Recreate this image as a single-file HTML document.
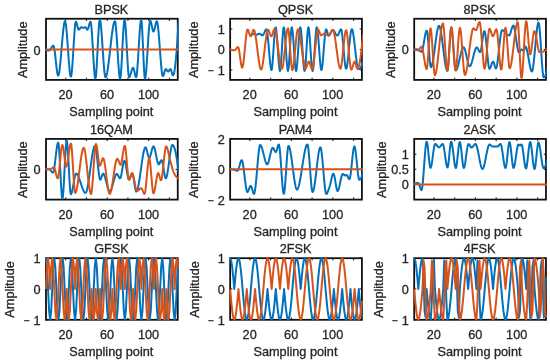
<!DOCTYPE html><html><head><meta charset="utf-8"><style>html,body{margin:0;padding:0;background:#fff;}svg{display:block;}text{font-family:"Liberation Sans",Arial,Helvetica,sans-serif;fill:#262626;stroke:#262626;stroke-width:0.3px;}</style></head><body>
<svg width="550" height="360" viewBox="0 0 550 360">
<rect width="550" height="360" fill="#fff"/>
<defs>
<clipPath id="c0"><rect x="45.00" y="17.75" width="133.75" height="63.15"/></clipPath>
<clipPath id="c1"><rect x="229.15" y="17.75" width="133.75" height="63.15"/></clipPath>
<clipPath id="c2"><rect x="413.20" y="17.75" width="133.75" height="63.15"/></clipPath>
<clipPath id="c3"><rect x="45.00" y="137.90" width="133.75" height="62.70"/></clipPath>
<clipPath id="c4"><rect x="229.15" y="137.90" width="133.75" height="62.70"/></clipPath>
<clipPath id="c5"><rect x="413.20" y="137.90" width="133.75" height="62.70"/></clipPath>
<clipPath id="c6"><rect x="45.00" y="257.20" width="133.75" height="63.60"/></clipPath>
<clipPath id="c7"><rect x="229.15" y="257.20" width="133.75" height="63.60"/></clipPath>
<clipPath id="c8"><rect x="413.20" y="257.20" width="133.75" height="63.60"/></clipPath>
</defs>
<rect x="46.00" y="18.75" width="131.75" height="61.15" fill="none" stroke="#101010" stroke-width="1.8"/>
<path d="M65.71 79.90v-2.2M65.71 18.75v2.2" stroke="#101010" stroke-width="1"/>
<path d="M86.46 79.90v-2.2M86.46 18.75v2.2" stroke="#101010" stroke-width="1"/>
<path d="M107.21 79.90v-2.2M107.21 18.75v2.2" stroke="#101010" stroke-width="1"/>
<path d="M127.95 79.90v-2.2M127.95 18.75v2.2" stroke="#101010" stroke-width="1"/>
<path d="M148.70 79.90v-2.2M148.70 18.75v2.2" stroke="#101010" stroke-width="1"/>
<path d="M169.45 79.90v-2.2M169.45 18.75v2.2" stroke="#101010" stroke-width="1"/>
<text x="65.51" y="99.10" font-size="12.7" text-anchor="middle">20</text>
<text x="107.01" y="99.10" font-size="12.7" text-anchor="middle">60</text>
<text x="148.50" y="99.10" font-size="12.7" text-anchor="middle">100</text>
<path d="M46.00 49.60h2.2M177.75 49.60h-2.2" stroke="#101010" stroke-width="1"/>
<text x="40.60" y="54.50" font-size="12.7" text-anchor="end">0</text>
<text x="111.42" y="13.80" font-size="12.7" text-anchor="middle">BPSK</text>
<text x="111.33" y="116.40" font-size="12.7" text-anchor="middle">Sampling point</text>
<text transform="translate(26.70,49.78) rotate(-90)" x="0" y="0" font-size="12.7" text-anchor="middle">Amplitude</text>
<g clip-path="url(#c0)" fill="none" stroke-width="2.0" stroke-linejoin="round" stroke-linecap="butt">
<polyline stroke="#0072BD" points="45.50,49.60 45.85,49.87 46.20,50.09 46.55,50.26 46.90,50.38 47.25,50.48 47.60,50.54 47.95,50.57 48.30,50.59 48.65,50.60 49.00,50.60 49.35,50.51 49.70,50.27 50.05,49.90 50.40,49.43 50.75,48.89 51.10,48.32 51.45,47.73 51.80,47.17 52.15,46.66 52.50,46.23 52.85,45.91 53.20,45.73 53.55,45.79 53.90,46.61 54.25,48.19 54.60,50.39 54.95,53.06 55.30,56.08 55.65,59.30 56.00,62.57 56.35,65.77 56.70,68.74 57.05,71.36 57.40,73.48 57.75,74.96 58.10,75.66 58.45,75.48 58.80,74.50 59.15,72.81 59.50,70.49 59.85,67.63 60.20,64.33 60.55,60.67 60.90,56.75 61.25,52.64 61.60,48.45 61.95,44.26 62.30,40.15 62.65,36.23 63.00,32.57 63.35,29.27 63.70,26.41 64.05,24.09 64.40,22.40 64.75,21.42 65.10,21.25 65.45,22.12 65.80,23.98 66.15,26.70 66.50,30.14 66.85,34.15 67.20,38.60 67.55,43.34 67.90,48.24 68.25,53.17 68.60,57.97 68.95,62.52 69.30,66.67 69.65,70.28 70.00,73.22 70.35,75.34 70.70,76.51 71.05,76.55 71.40,75.16 71.75,72.47 72.10,68.72 72.45,64.12 72.80,58.91 73.15,53.31 73.50,47.55 73.85,41.86 74.20,36.45 74.55,31.56 74.90,27.42 75.25,24.25 75.60,22.27 75.95,21.71 76.30,22.14 76.65,23.11 77.00,24.43 77.35,25.91 77.70,27.37 78.05,28.61 78.40,29.44 78.75,29.70 79.10,29.55 79.45,29.22 79.80,28.77 80.15,28.29 80.50,27.84 80.85,27.49 81.20,27.31 81.55,27.32 81.90,27.38 82.25,27.47 82.60,27.58 82.95,27.68 83.30,27.76 83.65,27.80 84.00,27.76 84.35,27.65 84.70,27.51 85.05,27.38 85.40,27.30 85.75,27.41 86.10,27.87 86.45,28.50 86.80,29.13 87.15,29.59 87.50,29.68 87.85,29.24 88.20,28.38 88.55,27.21 88.90,25.89 89.25,24.55 89.60,23.33 89.95,22.37 90.30,21.80 90.65,21.86 91.00,23.36 91.35,26.24 91.70,30.27 92.05,35.18 92.40,40.73 92.75,46.67 93.10,52.76 93.45,58.74 93.80,64.36 94.15,69.38 94.50,73.55 94.85,76.61 95.20,78.32 95.55,78.40 95.90,76.49 96.25,72.86 96.60,67.86 96.95,61.85 97.30,55.18 97.65,48.20 98.00,41.27 98.35,34.75 98.70,28.99 99.05,24.34 99.40,21.17 99.75,19.82 100.10,20.26 100.45,21.87 100.80,24.48 101.15,27.93 101.50,32.07 101.85,36.73 102.20,41.76 102.55,46.99 102.90,52.27 103.25,57.43 103.60,62.32 103.95,66.77 104.30,70.64 104.65,73.75 105.00,75.95 105.35,77.08 105.70,77.13 106.05,76.65 106.40,75.76 106.75,74.49 107.10,72.88 107.45,70.97 107.80,68.78 108.15,66.36 108.50,63.73 108.85,60.93 109.20,58.00 109.55,54.97 109.90,51.88 110.25,48.75 110.60,45.63 110.95,42.55 111.30,39.55 111.65,36.65 112.00,33.90 112.35,31.33 112.70,28.97 113.05,26.85 113.40,25.02 113.75,23.51 114.10,22.35 114.45,21.57 114.80,21.22 115.15,21.59 115.50,23.32 115.85,26.25 116.20,30.17 116.55,34.87 116.90,40.14 117.25,45.77 117.60,51.55 117.95,57.28 118.30,62.73 118.65,67.70 119.00,71.98 119.35,75.36 119.70,77.63 120.05,78.58 120.40,77.85 120.75,75.27 121.10,71.18 121.45,65.90 121.80,59.77 122.15,53.11 122.50,46.26 122.85,39.56 123.20,33.33 123.55,27.91 123.90,23.63 124.25,20.81 124.60,19.80 124.95,20.79 125.30,23.53 125.65,27.72 126.00,33.01 126.35,39.09 126.70,45.63 127.05,52.32 127.40,58.81 127.75,64.80 128.10,69.96 128.45,73.95 128.80,76.47 129.15,77.20 129.50,76.93 129.85,76.32 130.20,75.44 130.55,74.36 130.90,73.16 131.25,71.92 131.60,70.71 131.95,69.60 132.30,68.69 132.65,68.03 133.00,67.72 133.35,67.89 133.70,68.69 134.05,69.95 134.40,71.51 134.75,73.16 135.10,74.74 135.45,76.06 135.80,76.93 136.15,77.18 136.50,76.20 136.85,73.84 137.20,70.34 137.55,65.92 137.90,60.80 138.25,55.20 138.60,49.34 138.95,43.46 139.30,37.76 139.65,32.48 140.00,27.84 140.35,24.05 140.70,21.35 141.05,19.95 141.40,20.27 141.75,23.14 142.10,28.13 142.45,34.70 142.80,42.29 143.15,50.36 143.50,58.35 143.85,65.70 144.20,71.88 144.55,76.32 144.90,78.48 145.25,78.21 145.60,76.47 145.95,73.51 146.30,69.55 146.65,64.81 147.00,59.49 147.35,53.81 147.70,47.98 148.05,42.21 148.40,36.71 148.75,31.70 149.10,27.38 149.45,23.97 149.80,21.68 150.15,20.72 150.50,20.95 150.85,21.80 151.20,23.10 151.55,24.68 151.90,26.40 152.25,28.09 152.60,29.61 152.95,30.79 153.30,31.48 153.65,31.54 154.00,30.96 154.35,29.89 154.70,28.47 155.05,26.87 155.40,25.23 155.75,23.69 156.10,22.41 156.45,21.53 156.80,21.20 157.15,21.72 157.50,23.21 157.85,25.53 158.20,28.56 158.55,32.18 158.90,36.27 159.25,40.69 159.60,45.33 159.95,50.05 160.30,54.74 160.65,59.27 161.00,63.52 161.35,67.35 161.70,70.65 162.05,73.29 162.40,75.15 162.75,76.10 163.10,76.10 163.45,75.53 163.80,74.57 164.15,73.38 164.50,72.10 164.85,70.89 165.20,69.89 165.55,69.25 165.90,69.11 166.25,69.34 166.60,69.77 166.95,70.30 167.30,70.83 167.65,71.26 168.00,71.49 168.35,71.43 168.70,71.12 169.05,70.67 169.40,70.15 169.75,69.66 170.10,69.28 170.45,69.10 170.80,69.37 171.15,70.22 171.50,71.43 171.85,72.78 172.20,74.03 172.55,74.94 172.90,75.30 173.25,75.07 173.60,74.39 173.95,73.26 174.30,71.69 174.65,69.70 175.00,67.29 175.35,64.47 175.70,61.24 176.05,57.62 176.40,53.62 176.75,49.24 177.10,44.49 177.45,39.39 177.80,33.93 178.15,28.13 178.50,22.00"/>
<polyline stroke="#D95319" points="45.50,49.60 45.85,49.60 46.20,49.60 46.55,49.60 46.90,49.60 47.25,49.60 47.60,49.60 47.95,49.60 48.30,49.60 48.65,49.60 49.00,49.60 49.35,49.60 49.70,49.60 50.05,49.60 50.40,49.60 50.75,49.60 51.10,49.60 51.45,49.60 51.80,49.60 52.15,49.60 52.50,49.60 52.85,49.60 53.20,49.60 53.55,49.60 53.90,49.60 54.25,49.60 54.60,49.60 54.95,49.60 55.30,49.60 55.65,49.60 56.00,49.60 56.35,49.60 56.70,49.60 57.05,49.60 57.40,49.60 57.75,49.60 58.10,49.60 58.45,49.60 58.80,49.60 59.15,49.60 59.50,49.60 59.85,49.60 60.20,49.60 60.55,49.60 60.90,49.60 61.25,49.60 61.60,49.60 61.95,49.60 62.30,49.60 62.65,49.60 63.00,49.60 63.35,49.60 63.70,49.60 64.05,49.60 64.40,49.60 64.75,49.60 65.10,49.60 65.45,49.60 65.80,49.60 66.15,49.60 66.50,49.60 66.85,49.60 67.20,49.60 67.55,49.60 67.90,49.60 68.25,49.60 68.60,49.60 68.95,49.60 69.30,49.60 69.65,49.60 70.00,49.60 70.35,49.60 70.70,49.60 71.05,49.60 71.40,49.60 71.75,49.60 72.10,49.60 72.45,49.60 72.80,49.60 73.15,49.60 73.50,49.60 73.85,49.60 74.20,49.60 74.55,49.60 74.90,49.60 75.25,49.60 75.60,49.60 75.95,49.60 76.30,49.60 76.65,49.60 77.00,49.60 77.35,49.60 77.70,49.60 78.05,49.60 78.40,49.60 78.75,49.60 79.10,49.60 79.45,49.60 79.80,49.60 80.15,49.60 80.50,49.60 80.85,49.60 81.20,49.60 81.55,49.60 81.90,49.60 82.25,49.60 82.60,49.60 82.95,49.60 83.30,49.60 83.65,49.60 84.00,49.60 84.35,49.60 84.70,49.60 85.05,49.60 85.40,49.60 85.75,49.60 86.10,49.60 86.45,49.60 86.80,49.60 87.15,49.60 87.50,49.60 87.85,49.60 88.20,49.60 88.55,49.60 88.90,49.60 89.25,49.60 89.60,49.60 89.95,49.60 90.30,49.60 90.65,49.60 91.00,49.60 91.35,49.60 91.70,49.60 92.05,49.60 92.40,49.60 92.75,49.60 93.10,49.60 93.45,49.60 93.80,49.60 94.15,49.60 94.50,49.60 94.85,49.60 95.20,49.60 95.55,49.60 95.90,49.60 96.25,49.60 96.60,49.60 96.95,49.60 97.30,49.60 97.65,49.60 98.00,49.60 98.35,49.60 98.70,49.60 99.05,49.60 99.40,49.60 99.75,49.60 100.10,49.60 100.45,49.60 100.80,49.60 101.15,49.60 101.50,49.60 101.85,49.60 102.20,49.60 102.55,49.60 102.90,49.60 103.25,49.60 103.60,49.60 103.95,49.60 104.30,49.60 104.65,49.60 105.00,49.60 105.35,49.60 105.70,49.60 106.05,49.60 106.40,49.60 106.75,49.60 107.10,49.60 107.45,49.60 107.80,49.60 108.15,49.60 108.50,49.60 108.85,49.60 109.20,49.60 109.55,49.60 109.90,49.60 110.25,49.60 110.60,49.60 110.95,49.60 111.30,49.60 111.65,49.60 112.00,49.60 112.35,49.60 112.70,49.60 113.05,49.60 113.40,49.60 113.75,49.60 114.10,49.60 114.45,49.60 114.80,49.60 115.15,49.60 115.50,49.60 115.85,49.60 116.20,49.60 116.55,49.60 116.90,49.60 117.25,49.60 117.60,49.60 117.95,49.60 118.30,49.60 118.65,49.60 119.00,49.60 119.35,49.60 119.70,49.60 120.05,49.60 120.40,49.60 120.75,49.60 121.10,49.60 121.45,49.60 121.80,49.60 122.15,49.60 122.50,49.60 122.85,49.60 123.20,49.60 123.55,49.60 123.90,49.60 124.25,49.60 124.60,49.60 124.95,49.60 125.30,49.60 125.65,49.60 126.00,49.60 126.35,49.60 126.70,49.60 127.05,49.60 127.40,49.60 127.75,49.60 128.10,49.60 128.45,49.60 128.80,49.60 129.15,49.60 129.50,49.60 129.85,49.60 130.20,49.60 130.55,49.60 130.90,49.60 131.25,49.60 131.60,49.60 131.95,49.60 132.30,49.60 132.65,49.60 133.00,49.60 133.35,49.60 133.70,49.60 134.05,49.60 134.40,49.60 134.75,49.60 135.10,49.60 135.45,49.60 135.80,49.60 136.15,49.60 136.50,49.60 136.85,49.60 137.20,49.60 137.55,49.60 137.90,49.60 138.25,49.60 138.60,49.60 138.95,49.60 139.30,49.60 139.65,49.60 140.00,49.60 140.35,49.60 140.70,49.60 141.05,49.60 141.40,49.60 141.75,49.60 142.10,49.60 142.45,49.60 142.80,49.60 143.15,49.60 143.50,49.60 143.85,49.60 144.20,49.60 144.55,49.60 144.90,49.60 145.25,49.60 145.60,49.60 145.95,49.60 146.30,49.60 146.65,49.60 147.00,49.60 147.35,49.60 147.70,49.60 148.05,49.60 148.40,49.60 148.75,49.60 149.10,49.60 149.45,49.60 149.80,49.60 150.15,49.60 150.50,49.60 150.85,49.60 151.20,49.60 151.55,49.60 151.90,49.60 152.25,49.60 152.60,49.60 152.95,49.60 153.30,49.60 153.65,49.60 154.00,49.60 154.35,49.60 154.70,49.60 155.05,49.60 155.40,49.60 155.75,49.60 156.10,49.60 156.45,49.60 156.80,49.60 157.15,49.60 157.50,49.60 157.85,49.60 158.20,49.60 158.55,49.60 158.90,49.60 159.25,49.60 159.60,49.60 159.95,49.60 160.30,49.60 160.65,49.60 161.00,49.60 161.35,49.60 161.70,49.60 162.05,49.60 162.40,49.60 162.75,49.60 163.10,49.60 163.45,49.60 163.80,49.60 164.15,49.60 164.50,49.60 164.85,49.60 165.20,49.60 165.55,49.60 165.90,49.60 166.25,49.60 166.60,49.60 166.95,49.60 167.30,49.60 167.65,49.60 168.00,49.60 168.35,49.60 168.70,49.60 169.05,49.60 169.40,49.60 169.75,49.60 170.10,49.60 170.45,49.60 170.80,49.60 171.15,49.60 171.50,49.60 171.85,49.60 172.20,49.60 172.55,49.60 172.90,49.60 173.25,49.60 173.60,49.60 173.95,49.60 174.30,49.60 174.65,49.60 175.00,49.60 175.35,49.60 175.70,49.60 176.05,49.60 176.40,49.60 176.75,49.60 177.10,49.60 177.45,49.60 177.80,49.60 178.00,49.60"/>
</g>
<rect x="230.15" y="18.75" width="131.75" height="61.15" fill="none" stroke="#101010" stroke-width="1.8"/>
<path d="M249.86 79.90v-2.2M249.86 18.75v2.2" stroke="#101010" stroke-width="1"/>
<path d="M270.61 79.90v-2.2M270.61 18.75v2.2" stroke="#101010" stroke-width="1"/>
<path d="M291.36 79.90v-2.2M291.36 18.75v2.2" stroke="#101010" stroke-width="1"/>
<path d="M312.10 79.90v-2.2M312.10 18.75v2.2" stroke="#101010" stroke-width="1"/>
<path d="M332.85 79.90v-2.2M332.85 18.75v2.2" stroke="#101010" stroke-width="1"/>
<path d="M353.60 79.90v-2.2M353.60 18.75v2.2" stroke="#101010" stroke-width="1"/>
<text x="249.66" y="99.10" font-size="12.7" text-anchor="middle">20</text>
<text x="291.16" y="99.10" font-size="12.7" text-anchor="middle">60</text>
<text x="332.65" y="99.10" font-size="12.7" text-anchor="middle">100</text>
<path d="M230.15 29.00h2.2M361.90 29.00h-2.2" stroke="#101010" stroke-width="1"/>
<text x="224.75" y="33.90" font-size="12.7" text-anchor="end">1</text>
<path d="M230.15 49.50h2.2M361.90 49.50h-2.2" stroke="#101010" stroke-width="1"/>
<text x="224.75" y="54.40" font-size="12.7" text-anchor="end">0</text>
<path d="M230.15 70.00h2.2M361.90 70.00h-2.2" stroke="#101010" stroke-width="1"/>
<text x="224.75" y="74.90" font-size="12.7" text-anchor="end">1</text>
<text x="211.05" y="74.30" font-size="10" text-anchor="middle">&#8722;</text>
<text x="295.57" y="13.80" font-size="12.7" text-anchor="middle">QPSK</text>
<text x="295.47" y="116.40" font-size="12.7" text-anchor="middle">Sampling point</text>
<text transform="translate(198.35,49.78) rotate(-90)" x="0" y="0" font-size="12.7" text-anchor="middle">Amplitude</text>
<g clip-path="url(#c1)" fill="none" stroke-width="2.0" stroke-linejoin="round" stroke-linecap="butt">
<polyline stroke="#0072BD" points="250.60,36.20 250.95,35.72 251.30,35.28 251.65,34.88 252.00,34.53 252.35,34.24 252.70,34.02 253.05,33.87 253.40,33.80 253.75,33.82 254.10,33.91 254.45,34.05 254.80,34.22 255.15,34.40 255.50,34.57 255.85,34.71 256.20,34.79 256.55,34.79 256.90,34.71 257.25,34.56 257.60,34.37 257.95,34.16 258.30,33.97 258.65,33.81 259.00,33.72 259.35,33.71 259.70,33.79 260.05,33.95 260.40,34.16 260.75,34.39 261.10,34.64 261.45,34.87 261.80,35.08 262.15,35.22 262.50,35.30 262.85,35.22 263.20,34.89 263.55,34.35 263.90,33.65 264.25,32.85 264.60,32.01 264.95,31.19 265.30,30.44 265.65,29.82 266.00,29.39 266.35,29.20 266.70,29.61 267.05,31.02 267.40,33.30 267.75,36.28 268.10,39.80 268.45,43.71 268.80,47.85 269.15,52.05 269.50,56.16 269.85,60.03 270.20,63.48 270.55,66.37 270.90,68.53 271.25,69.81 271.60,70.02 271.95,68.67 272.30,65.85 272.65,61.89 273.00,57.11 273.35,51.82 273.70,46.36 274.05,41.03 274.40,36.15 274.75,32.06 275.10,29.05 275.45,27.47 275.80,27.56 276.15,29.18 276.50,32.04 276.85,35.88 277.20,40.43 277.55,45.44 277.90,50.64 278.25,55.76 278.60,60.54 278.95,64.72 279.30,68.03 279.65,70.21 280.00,71.00 280.35,69.96 280.70,67.10 281.05,62.83 281.40,57.58 281.75,51.73 282.10,45.71 282.45,39.93 282.80,34.79 283.15,30.70 283.50,28.07 283.85,27.32 284.20,28.41 284.55,30.98 284.90,34.72 285.25,39.33 285.60,44.50 285.95,49.93 286.30,55.32 286.65,60.36 287.00,64.75 287.35,68.18 287.70,70.36 288.05,70.98 288.40,69.65 288.75,66.57 289.10,62.13 289.45,56.77 289.80,50.87 290.15,44.86 290.50,39.14 290.85,34.13 291.20,30.22 291.55,27.84 291.90,27.37 292.25,28.64 292.60,31.27 292.95,35.01 293.30,39.54 293.65,44.61 294.00,49.91 294.35,55.18 294.70,60.12 295.05,64.46 295.40,67.90 295.75,70.18 296.10,71.00 296.45,70.14 296.80,67.76 297.15,64.17 297.50,59.67 297.85,54.56 298.20,49.15 298.55,43.74 298.90,38.63 299.25,34.13 299.60,30.54 299.95,28.16 300.30,27.30 300.65,28.12 301.00,30.40 301.35,33.84 301.70,38.18 302.05,43.12 302.40,48.39 302.75,53.69 303.10,58.76 303.45,63.29 303.80,67.03 304.15,69.66 304.50,70.93 304.85,70.46 305.20,68.08 305.55,64.17 305.90,59.16 306.25,53.44 306.60,47.43 306.95,41.53 307.30,36.17 307.65,31.73 308.00,28.65 308.35,27.32 308.70,27.94 309.05,30.12 309.40,33.55 309.75,37.94 310.10,42.98 310.45,48.37 310.80,53.80 311.15,58.97 311.50,63.58 311.85,67.32 312.20,69.89 312.55,70.98 312.90,70.36 313.25,68.18 313.60,64.75 313.95,60.36 314.30,55.32 314.65,49.93 315.00,44.50 315.35,39.33 315.70,34.72 316.05,30.98 316.40,28.41 316.75,27.32 317.10,27.82 317.45,29.62 317.80,32.49 318.15,36.20 318.50,40.52 318.85,45.22 319.20,50.09 319.55,54.90 319.90,59.41 320.25,63.41 320.60,66.67 320.95,68.95 321.30,70.04 321.65,69.77 322.00,68.28 322.35,65.77 322.70,62.46 323.05,58.55 323.40,54.22 323.75,49.70 324.10,45.18 324.45,40.85 324.80,36.94 325.15,33.63 325.50,31.12 325.85,29.63 326.20,29.33 326.55,29.84 326.90,30.82 327.25,32.07 327.60,33.38 327.95,34.54 328.30,35.35 328.65,35.60 329.00,35.46 329.35,35.13 329.70,34.65 330.05,34.06 330.40,33.40 330.75,32.70 331.10,32.01 331.45,31.36 331.80,30.80 332.15,30.36 332.50,30.08 332.85,30.00 333.20,30.12 333.55,30.40 333.90,30.81 334.25,31.32 334.60,31.90 334.95,32.53 335.30,33.16 335.65,33.79 336.00,34.36 336.35,34.86 336.70,35.25 337.05,35.51 337.40,35.60 337.75,35.43 338.10,34.98 338.45,34.30 338.80,33.48 339.15,32.58 339.50,31.67 339.85,30.82 340.20,30.10 340.55,29.57 340.90,29.31 341.25,29.57 341.60,30.81 341.95,32.89 342.30,35.67 342.65,39.00 343.00,42.73 343.35,46.69 343.70,50.74 344.05,54.72 344.40,58.49 344.75,61.88 345.10,64.75 345.45,66.94 345.80,68.31 346.15,68.69 346.50,68.14 346.85,66.83 347.20,64.85 347.55,62.33 347.90,59.37 348.25,56.08 348.60,52.57 348.95,48.95 349.30,45.33 349.65,41.82 350.00,38.53 350.35,35.57 350.70,33.05 351.05,31.07 351.40,29.76 351.75,29.21 352.10,29.43 352.45,30.25 352.80,31.60 353.15,33.40 353.50,35.59 353.85,38.10 354.20,40.86 354.55,43.81 354.90,46.88 355.25,49.99 355.60,53.09 355.95,56.09 356.30,58.94 356.65,61.57 357.00,63.91 357.35,65.88 357.70,67.43 358.05,68.49 358.40,68.97 358.75,68.99 359.10,68.92 359.45,68.79 359.80,68.57 360.15,68.25 360.50,67.81 360.85,67.24 361.20,66.53 361.55,65.66 361.90,64.61 362.25,63.37 362.60,61.92 362.95,60.26 363.00,60.00"/>
<polyline stroke="#D95319" points="230.00,48.80 230.35,49.09 230.70,49.34 231.05,49.54 231.40,49.72 231.75,49.85 232.10,49.96 232.45,50.05 232.80,50.11 233.15,50.15 233.50,50.18 233.85,50.19 234.20,50.20 234.55,50.20 234.90,50.17 235.25,49.96 235.60,49.62 235.95,49.17 236.30,48.67 236.65,48.17 237.00,47.70 237.35,47.32 237.70,47.07 238.05,47.01 238.40,47.53 238.75,48.74 239.10,50.52 239.45,52.70 239.80,55.15 240.15,57.72 240.50,60.27 240.85,62.66 241.20,64.74 241.55,66.37 241.90,67.40 242.25,67.69 242.60,67.10 242.95,65.69 243.30,63.59 243.65,60.92 244.00,57.80 244.35,54.36 244.70,50.72 245.05,47.01 245.40,43.36 245.75,39.88 246.10,36.71 246.45,33.96 246.80,31.77 247.15,30.25 247.50,29.54 247.85,29.63 248.20,30.20 248.55,31.09 248.90,32.18 249.25,33.35 249.60,34.46 249.95,35.39 250.30,36.01 250.65,36.20 251.00,35.91 251.35,35.26 251.70,34.35 252.05,33.31 252.40,32.23 252.75,31.23 253.10,30.43 253.45,29.92 253.80,29.82 254.15,30.22 254.50,31.09 254.85,32.38 255.20,34.04 255.55,36.02 255.90,38.26 256.25,40.72 256.60,43.35 256.95,46.09 257.30,48.89 257.65,51.71 258.00,54.50 258.35,57.20 258.70,59.76 259.05,62.13 259.40,64.26 259.75,66.11 260.10,67.62 260.45,68.73 260.80,69.41 261.15,69.59 261.50,69.22 261.85,68.33 262.20,66.96 262.55,65.18 262.90,63.06 263.25,60.64 263.60,58.00 263.95,55.18 264.30,52.25 264.65,49.27 265.00,46.30 265.35,43.40 265.70,40.63 266.05,38.04 266.40,35.70 266.75,33.67 267.10,32.00 267.45,30.77 267.80,30.01 268.15,29.81 268.50,30.10 268.85,30.76 269.20,31.67 269.55,32.74 269.90,33.83 270.25,34.84 270.60,35.66 270.95,36.18 271.30,36.28 271.65,35.94 272.00,35.25 272.35,34.31 272.70,33.23 273.05,32.11 273.40,31.04 273.75,30.13 274.10,29.49 274.45,29.20 274.80,29.39 275.15,30.06 275.50,31.17 275.85,32.66 276.20,34.50 276.55,36.61 276.90,38.97 277.25,41.51 277.60,44.19 277.95,46.95 278.30,49.75 278.65,52.54 279.00,55.26 279.35,57.86 279.70,60.30 280.05,62.53 280.40,64.49 280.75,66.13 281.10,67.41 281.45,68.28 281.80,68.68 282.15,68.50 282.50,67.60 282.85,66.07 283.20,63.98 283.55,61.43 283.90,58.52 284.25,55.33 284.60,51.96 284.95,48.50 285.30,45.04 285.65,41.67 286.00,38.48 286.35,35.57 286.70,33.02 287.05,30.93 287.40,29.40 287.75,28.50 288.10,28.37 288.45,29.58 288.80,32.10 289.15,35.67 289.50,40.01 289.85,44.85 290.20,49.93 290.55,54.97 290.90,59.69 291.25,63.84 291.60,67.14 291.95,69.31 292.30,70.10 292.65,69.66 293.00,68.40 293.35,66.45 293.70,63.91 294.05,60.90 294.40,57.54 294.75,53.93 295.10,50.19 295.45,46.43 295.80,42.78 296.15,39.33 296.50,36.21 296.85,33.52 297.20,31.39 297.55,29.92 297.90,29.24 298.25,29.33 298.60,29.92 298.95,30.94 299.30,32.35 299.65,34.09 300.00,36.13 300.35,38.40 300.70,40.87 301.05,43.48 301.40,46.19 301.75,48.95 302.10,51.71 302.45,54.42 302.80,57.03 303.15,59.50 303.50,61.77 303.85,63.81 304.20,65.55 304.55,66.96 304.90,67.98 305.25,68.57 305.60,68.68 305.95,68.34 306.30,67.65 306.65,66.71 307.00,65.63 307.35,64.51 307.70,63.44 308.05,62.53 308.40,61.89 308.75,61.60 309.10,61.77 309.45,62.36 309.80,63.25 310.15,64.34 310.50,65.52 310.85,66.69 311.20,67.73 311.55,68.54 311.90,69.02 312.25,69.03 312.60,68.35 312.95,67.02 313.30,65.13 313.65,62.76 314.00,60.01 314.35,56.97 314.70,53.73 315.05,50.37 315.40,46.98 315.75,43.66 316.10,40.49 316.45,37.57 316.80,34.97 317.15,32.80 317.50,31.14 317.85,30.07 318.20,29.70 318.55,29.93 318.90,30.52 319.25,31.37 319.60,32.36 319.95,33.36 320.30,34.26 320.65,34.94 321.00,35.28 321.35,35.27 321.70,35.14 322.05,34.94 322.40,34.69 322.75,34.42 323.10,34.16 323.45,33.94 323.80,33.77 324.15,33.70 324.50,33.73 324.85,33.81 325.20,33.95 325.55,34.13 325.90,34.33 326.25,34.55 326.60,34.78 326.95,35.00 327.30,35.20 327.65,35.37 328.00,35.50 328.35,35.58 328.70,35.59 329.05,35.42 329.40,35.07 329.75,34.57 330.10,33.97 330.45,33.30 330.80,32.60 331.15,31.91 331.50,31.28 331.85,30.73 332.20,30.31 332.55,30.06 332.90,30.02 333.25,30.39 333.60,31.20 333.95,32.39 334.30,33.93 334.65,35.76 335.00,37.85 335.35,40.15 335.70,42.60 336.05,45.18 336.40,47.82 336.75,50.50 337.10,53.15 337.45,55.73 337.80,58.21 338.15,60.53 338.50,62.65 338.85,64.53 339.20,66.11 339.55,67.36 339.90,68.22 340.25,68.66 340.60,68.56 340.95,67.69 341.30,66.12 341.65,63.96 342.00,61.30 342.35,58.27 342.70,54.95 343.05,51.47 343.40,47.93 343.75,44.44 344.10,41.09 344.45,38.01 344.80,35.29 345.15,33.05 345.50,31.39 345.85,30.42 346.20,30.24 346.55,31.03 346.90,32.71 347.25,35.13 347.60,38.14 347.95,41.61 348.30,45.39 348.65,49.33 349.00,53.29 349.35,57.13 349.70,60.70 350.05,63.86 350.40,66.47 350.75,68.37 351.10,69.43 351.45,69.55 351.80,69.10 352.15,68.28 352.50,67.20 352.85,65.96 353.20,64.70 353.55,63.51 353.90,62.53 354.25,61.85 354.60,61.60 354.95,61.91 355.30,62.71 355.65,63.85 356.00,65.15 356.35,66.45 356.70,67.59 357.05,68.39 357.40,68.70 357.75,68.56 358.10,68.13 358.45,67.42 358.80,66.43 359.15,65.17 359.50,63.64 359.85,61.83 360.20,59.76 360.55,57.43 360.90,54.84 361.25,51.99 361.60,48.89 361.95,45.53 362.30,41.93 362.65,38.09 363.00,34.00"/>
</g>
<rect x="414.20" y="18.75" width="131.75" height="61.15" fill="none" stroke="#101010" stroke-width="1.8"/>
<path d="M433.91 79.90v-2.2M433.91 18.75v2.2" stroke="#101010" stroke-width="1"/>
<path d="M454.66 79.90v-2.2M454.66 18.75v2.2" stroke="#101010" stroke-width="1"/>
<path d="M475.41 79.90v-2.2M475.41 18.75v2.2" stroke="#101010" stroke-width="1"/>
<path d="M496.15 79.90v-2.2M496.15 18.75v2.2" stroke="#101010" stroke-width="1"/>
<path d="M516.90 79.90v-2.2M516.90 18.75v2.2" stroke="#101010" stroke-width="1"/>
<path d="M537.65 79.90v-2.2M537.65 18.75v2.2" stroke="#101010" stroke-width="1"/>
<text x="433.71" y="99.10" font-size="12.7" text-anchor="middle">20</text>
<text x="475.21" y="99.10" font-size="12.7" text-anchor="middle">60</text>
<text x="516.70" y="99.10" font-size="12.7" text-anchor="middle">100</text>
<path d="M414.20 49.50h2.2M545.95 49.50h-2.2" stroke="#101010" stroke-width="1"/>
<text x="408.80" y="54.40" font-size="12.7" text-anchor="end">0</text>
<text x="479.62" y="13.80" font-size="12.7" text-anchor="middle">8PSK</text>
<text x="479.52" y="116.40" font-size="12.7" text-anchor="middle">Sampling point</text>
<text transform="translate(394.80,49.78) rotate(-90)" x="0" y="0" font-size="12.7" text-anchor="middle">Amplitude</text>
<g clip-path="url(#c2)" fill="none" stroke-width="2.0" stroke-linejoin="round" stroke-linecap="butt">
<polyline stroke="#0072BD" points="414.20,49.50 414.55,49.43 414.90,49.38 415.25,49.35 415.60,49.32 415.95,49.31 416.30,49.30 416.65,49.30 417.00,49.30 417.35,49.34 417.70,49.46 418.05,49.63 418.40,49.85 418.75,50.11 419.10,50.38 419.45,50.66 419.80,50.93 420.15,51.18 420.50,51.40 420.85,51.56 421.20,51.67 421.55,51.69 421.90,51.34 422.25,50.51 422.60,49.27 422.95,47.69 423.30,45.87 423.65,43.86 424.00,41.76 424.35,39.63 424.70,37.56 425.05,35.63 425.40,33.90 425.75,32.46 426.10,31.38 426.45,30.74 426.80,30.66 427.15,31.72 427.50,33.93 427.85,37.05 428.20,40.85 428.55,45.09 428.90,49.54 429.25,53.95 429.60,58.09 429.95,61.72 430.30,64.61 430.65,66.51 431.00,67.20 431.35,66.97 431.70,66.30 432.05,65.25 432.40,63.84 432.75,62.12 433.10,60.14 433.45,57.93 433.80,55.54 434.15,53.00 434.50,50.36 434.85,47.66 435.20,44.95 435.55,42.26 435.90,39.63 436.25,37.11 436.60,34.74 436.95,32.56 437.30,30.61 437.65,28.94 438.00,27.58 438.35,26.58 438.70,25.97 439.05,25.80 439.40,26.10 439.75,26.81 440.10,27.91 440.45,29.36 440.80,31.11 441.15,33.13 441.50,35.39 441.85,37.83 442.20,40.42 442.55,43.12 442.90,45.89 443.25,48.70 443.60,51.50 443.95,54.26 444.30,56.94 444.65,59.49 445.00,61.88 445.35,64.07 445.70,66.02 446.05,67.69 446.40,69.04 446.75,70.03 447.10,70.63 447.45,70.78 447.80,69.52 448.15,66.60 448.50,62.39 448.85,57.26 449.20,51.60 449.55,45.77 449.90,40.16 450.25,35.14 450.60,31.09 450.95,28.39 451.30,27.40 451.65,28.17 452.00,30.33 452.35,33.59 452.70,37.71 453.05,42.43 453.40,47.48 453.75,52.61 454.10,57.55 454.45,62.04 454.80,65.83 455.15,68.65 455.50,70.24 455.85,70.48 456.20,70.23 456.55,69.75 456.90,69.06 457.25,68.17 457.60,67.12 457.95,65.93 458.30,64.62 458.65,63.21 459.00,61.74 459.35,60.22 459.70,58.68 460.05,57.14 460.40,55.64 460.75,54.18 461.10,52.80 461.45,51.52 461.80,50.36 462.15,49.36 462.50,48.52 462.85,47.89 463.20,47.47 463.55,47.30 463.90,47.43 464.25,47.90 464.60,48.66 464.95,49.68 465.30,50.90 465.65,52.30 466.00,53.81 466.35,55.40 466.70,57.03 467.05,58.66 467.40,60.23 467.75,61.72 468.10,63.06 468.45,64.23 468.80,65.18 469.15,65.86 469.50,66.24 469.85,66.28 470.20,66.03 470.55,65.55 470.90,64.86 471.25,63.99 471.60,62.96 471.95,61.81 472.30,60.55 472.65,59.22 473.00,57.85 473.35,56.45 473.70,55.06 474.05,53.71 474.40,52.42 474.75,51.22 475.10,50.13 475.45,49.19 475.80,48.42 476.15,47.85 476.50,47.50 476.85,47.40 477.20,47.59 477.55,48.02 477.90,48.62 478.25,49.32 478.60,50.07 478.95,50.79 479.30,51.41 479.65,51.86 480.00,52.09 480.35,51.90 480.70,50.99 481.05,49.48 481.40,47.50 481.75,45.20 482.10,42.70 482.45,40.14 482.80,37.66 483.15,35.39 483.50,33.47 483.85,32.04 484.20,31.23 484.55,31.20 484.90,32.11 485.25,33.89 485.60,36.37 485.95,39.41 486.30,42.87 486.65,46.60 487.00,50.45 487.35,54.29 487.70,57.95 488.05,61.31 488.40,64.21 488.75,66.50 489.10,68.04 489.45,68.69 489.80,68.56 490.15,68.09 490.50,67.36 490.85,66.45 491.20,65.45 491.55,64.42 491.90,63.44 492.25,62.60 492.60,61.97 492.95,61.64 493.30,61.70 493.65,62.29 494.00,63.28 494.35,64.50 494.70,65.78 495.05,66.98 495.40,67.92 495.75,68.44 496.10,68.38 496.45,67.65 496.80,66.31 497.15,64.46 497.50,62.16 497.85,59.52 498.20,56.60 498.55,53.49 498.90,50.28 499.25,47.04 499.60,43.86 499.95,40.82 500.30,38.01 500.65,35.50 501.00,33.39 501.35,31.75 501.70,30.66 502.05,30.21 502.40,30.23 502.75,30.32 503.10,30.48 503.45,30.69 503.80,30.95 504.15,31.25 504.50,31.58 504.85,31.94 505.20,32.31 505.55,32.69 505.90,33.07 506.25,33.45 506.60,33.82 506.95,34.16 507.30,34.48 507.65,34.76 508.00,35.00 508.35,35.19 508.70,35.33 509.05,35.39 509.40,35.33 509.75,34.91 510.10,34.18 510.45,33.20 510.80,32.05 511.15,30.81 511.50,29.55 511.85,28.34 512.20,27.26 512.55,26.37 512.90,25.76 513.25,25.50 513.60,25.72 513.95,26.47 514.30,27.70 514.65,29.33 515.00,31.27 515.35,33.47 515.70,35.83 516.05,38.29 516.40,40.77 516.75,43.20 517.10,45.50 517.45,47.60 517.80,49.41 518.15,50.88 518.50,51.91 518.85,52.44 519.20,52.45 519.55,52.13 519.90,51.61 520.25,51.00 520.60,50.39 520.95,49.87 521.30,49.55 521.65,49.51 522.00,49.62 522.35,49.81 522.70,50.03 523.05,50.25 523.40,50.42 523.75,50.50 524.10,50.18 524.45,49.23 524.80,48.04 525.15,47.03 525.50,46.60 525.85,46.82 526.20,47.43 526.55,48.39 526.90,49.65 527.25,51.17 527.60,52.88 527.95,54.75 528.30,56.73 528.65,58.76 529.00,60.80 529.35,62.79 529.70,64.70 530.05,66.46 530.40,68.04 530.75,69.38 531.10,70.43 531.45,71.15 531.80,71.48 532.15,71.29 532.50,70.36 532.85,68.75 533.20,66.56 533.55,63.86 533.90,60.75 534.25,57.32 534.60,53.64 534.95,49.82 535.30,45.94 535.65,42.08 536.00,38.33 536.35,34.79 536.70,31.53 537.05,28.64 537.40,26.22 537.75,24.35 538.10,23.12 538.45,22.61 538.80,23.12 539.15,24.95 539.50,27.88 539.85,31.73 540.20,36.29 540.55,41.37 540.90,46.76 541.25,52.26 541.60,57.68 541.95,62.81 542.30,67.46 542.65,71.42 543.00,74.50 543.35,76.49 543.70,77.20 544.05,77.18 544.40,77.06 544.75,76.81 545.10,76.35 545.45,75.65 545.80,74.63 546.15,73.24 546.50,71.43 546.85,69.14 547.00,68.00"/>
<polyline stroke="#D95319" points="414.20,49.30 414.55,49.52 414.90,49.69 415.25,49.84 415.60,49.95 415.95,50.04 416.30,50.10 416.65,50.15 417.00,50.18 417.35,50.19 417.70,50.20 418.05,50.20 418.40,50.16 418.75,49.94 419.10,49.56 419.45,49.07 419.80,48.53 420.15,47.98 420.50,47.47 420.85,47.05 421.20,46.78 421.55,46.71 421.90,47.08 422.25,47.96 422.60,49.28 422.95,50.95 423.30,52.89 423.65,55.02 424.00,57.25 424.35,59.51 424.70,61.71 425.05,63.77 425.40,65.60 425.75,67.13 426.10,68.27 426.45,68.95 426.80,69.02 427.15,67.52 427.50,64.44 427.85,60.15 428.20,55.05 428.55,49.51 428.90,43.91 429.25,38.64 429.60,34.08 429.95,30.62 430.30,28.63 430.65,28.46 431.00,29.98 431.35,32.88 431.70,36.88 432.05,41.69 432.40,47.02 432.75,52.60 433.10,58.14 433.45,63.35 433.80,67.96 434.15,71.67 434.50,74.21 434.85,75.28 435.20,75.09 435.55,74.33 435.90,73.07 436.25,71.37 436.60,69.28 436.95,66.84 437.30,64.11 437.65,61.15 438.00,57.99 438.35,54.71 438.70,51.34 439.05,47.94 439.40,44.57 439.75,41.27 440.10,38.09 440.45,35.10 440.80,32.33 441.15,29.85 441.50,27.70 441.85,25.94 442.20,24.62 442.55,23.79 442.90,23.50 443.25,24.31 443.60,26.58 443.95,30.02 444.30,34.39 444.65,39.40 445.00,44.79 445.35,50.30 445.70,55.65 446.05,60.58 446.40,64.83 446.75,68.12 447.10,70.20 447.45,70.78 447.80,69.52 448.15,66.60 448.50,62.39 448.85,57.26 449.20,51.60 449.55,45.77 449.90,40.16 450.25,35.14 450.60,31.09 450.95,28.39 451.30,27.40 451.65,28.17 452.00,30.33 452.35,33.59 452.70,37.71 453.05,42.43 453.40,47.48 453.75,52.61 454.10,57.55 454.45,62.04 454.80,65.83 455.15,68.65 455.50,70.24 455.85,70.34 456.20,68.83 456.55,65.96 456.90,62.03 457.25,57.35 457.60,52.19 457.95,46.87 458.30,41.67 458.65,36.90 459.00,32.84 459.35,29.80 459.70,28.08 460.05,27.92 460.40,29.12 460.75,31.42 461.10,34.64 461.45,38.57 461.80,43.03 462.15,47.83 462.50,52.76 462.85,57.64 463.20,62.27 463.55,66.45 463.90,70.00 464.25,72.72 464.60,74.41 464.95,74.90 465.30,74.61 465.65,73.90 466.00,72.81 466.35,71.37 466.70,69.63 467.05,67.62 467.40,65.38 467.75,62.94 468.10,60.35 468.45,57.63 468.80,54.84 469.15,52.01 469.50,49.17 469.85,46.36 470.20,43.62 470.55,40.99 470.90,38.50 471.25,36.20 471.60,34.12 471.95,32.30 472.30,30.77 472.65,29.58 473.00,28.75 473.35,28.34 473.70,28.34 474.05,28.55 474.40,28.90 474.75,29.31 475.10,29.71 475.45,30.02 475.80,30.19 476.15,30.09 476.50,29.63 476.85,28.87 477.20,27.90 477.55,26.80 477.90,25.66 478.25,24.55 478.60,23.56 478.95,22.76 479.30,22.25 479.65,22.11 480.00,22.95 480.35,24.93 480.70,27.87 481.05,31.58 481.40,35.87 481.75,40.54 482.10,45.40 482.45,50.26 482.80,54.93 483.15,59.22 483.50,62.93 483.85,65.87 484.20,67.85 484.55,68.69 484.90,68.27 485.25,66.78 485.60,64.38 485.95,61.26 486.30,57.60 486.65,53.55 487.00,49.31 487.35,45.04 487.70,40.93 488.05,37.14 488.40,33.84 488.75,31.22 489.10,29.46 489.45,28.71 489.80,28.87 490.15,29.43 490.50,30.29 490.85,31.34 491.20,32.50 491.55,33.66 491.90,34.71 492.25,35.57 492.60,36.13 492.95,36.30 493.30,36.04 493.65,35.46 494.00,34.64 494.35,33.65 494.70,32.60 495.05,31.55 495.40,30.61 495.75,29.84 496.10,29.35 496.45,29.21 496.80,29.99 497.15,31.85 497.50,34.59 497.85,38.03 498.20,41.98 498.55,46.26 498.90,50.66 499.25,55.01 499.60,59.13 499.95,62.81 500.30,65.87 500.65,68.13 501.00,69.40 501.35,69.45 501.70,68.04 502.05,65.35 502.40,61.65 502.75,57.22 503.10,52.33 503.45,47.24 503.80,42.23 504.15,37.57 504.50,33.53 504.85,30.38 505.20,28.38 505.55,27.82 505.90,28.83 506.25,31.20 506.60,34.66 506.95,38.92 507.30,43.70 507.65,48.72 508.00,53.70 508.35,58.36 508.70,62.42 509.05,65.60 509.40,67.61 509.75,68.19 510.10,67.87 510.45,67.06 510.80,65.82 511.15,64.21 511.50,62.25 511.85,60.00 512.20,57.51 512.55,54.82 512.90,51.97 513.25,49.02 513.60,46.01 513.95,42.99 514.30,40.00 514.65,37.09 515.00,34.31 515.35,31.70 515.70,29.30 516.05,27.17 516.40,25.36 516.75,23.90 517.10,22.84 517.45,22.23 517.80,22.21 518.15,24.27 518.50,28.50 518.85,34.38 519.20,41.39 519.55,48.99 519.90,56.68 520.25,63.91 520.60,70.16 520.95,74.92 521.30,77.65 521.65,77.93 522.00,76.31 522.35,73.19 522.70,68.87 523.05,63.62 523.40,57.72 523.75,51.46 524.10,45.13 524.45,38.99 524.80,33.34 525.15,28.45 525.50,24.61 525.85,22.10 526.20,21.20 526.55,21.92 526.90,23.89 527.25,26.84 527.60,30.53 527.95,34.66 528.30,38.99 528.65,43.24 529.00,47.15 529.35,50.45 529.70,52.88 530.05,54.16 530.40,54.15 530.75,53.21 531.10,51.56 531.45,49.36 531.80,46.76 532.15,43.94 532.50,41.05 532.85,38.25 533.20,35.70 533.55,33.57 533.90,32.01 534.25,31.19 534.60,31.19 534.95,31.78 535.30,32.82 535.65,34.25 536.00,35.98 536.35,37.93 536.70,40.02 537.05,42.16 537.40,44.29 537.75,46.31 538.10,48.14 538.45,49.71 538.80,50.93 539.15,51.72 539.50,52.00 539.85,52.00 540.20,52.00 540.55,51.99 540.90,51.98 541.25,51.96 541.60,51.93 541.95,51.88 542.30,51.82 542.65,51.75 543.00,51.65 543.35,51.54 543.70,51.40 544.05,51.24 544.40,51.05 544.75,50.83 545.10,50.58 545.45,50.30 545.80,49.98 546.15,49.63 546.50,49.24 546.85,48.80 547.00,48.60"/>
</g>
<rect x="46.00" y="138.90" width="131.75" height="60.70" fill="none" stroke="#101010" stroke-width="1.8"/>
<path d="M65.71 199.60v-2.2M65.71 138.90v2.2" stroke="#101010" stroke-width="1"/>
<path d="M86.46 199.60v-2.2M86.46 138.90v2.2" stroke="#101010" stroke-width="1"/>
<path d="M107.21 199.60v-2.2M107.21 138.90v2.2" stroke="#101010" stroke-width="1"/>
<path d="M127.95 199.60v-2.2M127.95 138.90v2.2" stroke="#101010" stroke-width="1"/>
<path d="M148.70 199.60v-2.2M148.70 138.90v2.2" stroke="#101010" stroke-width="1"/>
<path d="M169.45 199.60v-2.2M169.45 138.90v2.2" stroke="#101010" stroke-width="1"/>
<text x="65.51" y="218.80" font-size="12.7" text-anchor="middle">20</text>
<text x="107.01" y="218.80" font-size="12.7" text-anchor="middle">60</text>
<text x="148.50" y="218.80" font-size="12.7" text-anchor="middle">100</text>
<path d="M46.00 169.40h2.2M177.75 169.40h-2.2" stroke="#101010" stroke-width="1"/>
<text x="40.60" y="174.30" font-size="12.7" text-anchor="end">0</text>
<text x="111.42" y="133.95" font-size="12.7" text-anchor="middle">16QAM</text>
<text x="111.33" y="236.10" font-size="12.7" text-anchor="middle">Sampling point</text>
<text transform="translate(26.70,169.70) rotate(-90)" x="0" y="0" font-size="12.7" text-anchor="middle">Amplitude</text>
<g clip-path="url(#c3)" fill="none" stroke-width="2.0" stroke-linejoin="round" stroke-linecap="butt">
<polyline stroke="#0072BD" points="45.50,169.30 45.85,169.27 46.20,169.25 46.55,169.23 46.90,169.22 47.25,169.21 47.60,169.21 47.95,169.20 48.30,169.20 48.65,169.20 49.00,169.20 49.35,169.27 49.70,169.48 50.05,169.78 50.40,170.16 50.75,170.58 51.10,171.03 51.45,171.46 51.80,171.87 52.15,172.20 52.50,172.45 52.85,172.59 53.20,172.47 53.55,171.66 53.90,170.22 54.25,168.23 54.60,165.83 54.95,163.11 55.30,160.18 55.65,157.17 56.00,154.17 56.35,151.29 56.70,148.65 57.05,146.35 57.40,144.51 57.75,143.24 58.10,142.63 58.45,143.17 58.80,145.70 59.15,149.90 59.50,155.37 59.85,161.74 60.20,168.60 60.55,175.58 60.90,182.27 61.25,188.30 61.60,193.28 61.95,196.81 62.30,198.51 62.65,198.04 63.00,195.53 63.35,191.37 63.70,185.92 64.05,179.57 64.40,172.67 64.75,165.62 65.10,158.78 65.45,152.53 65.80,147.25 66.15,143.30 66.50,141.06 66.85,140.90 67.20,142.80 67.55,146.40 67.90,151.33 68.25,157.21 68.60,163.68 68.95,170.37 69.30,176.89 69.65,182.88 70.00,187.97 70.35,191.78 70.70,193.95 71.05,194.25 71.40,193.76 71.75,192.82 72.10,191.50 72.45,189.88 72.80,188.03 73.15,186.03 73.50,183.95 73.85,181.87 74.20,179.87 74.55,178.02 74.90,176.40 75.25,175.08 75.60,174.14 75.95,173.65 76.30,173.63 76.65,173.79 77.00,174.10 77.35,174.53 77.70,175.09 78.05,175.75 78.40,176.50 78.75,177.34 79.10,178.24 79.45,179.21 79.80,180.22 80.15,181.26 80.50,182.33 80.85,183.40 81.20,184.48 81.55,185.54 81.90,186.58 82.25,187.57 82.60,188.52 82.95,189.41 83.30,190.22 83.65,190.95 84.00,191.58 84.35,192.10 84.70,192.50 85.05,192.77 85.40,192.89 85.75,192.80 86.10,192.36 86.45,191.59 86.80,190.51 87.15,189.15 87.50,187.54 87.85,185.71 88.20,183.69 88.55,181.50 88.90,179.18 89.25,176.75 89.60,174.23 89.95,171.67 90.30,169.08 90.65,166.49 91.00,163.94 91.35,161.45 91.70,159.05 92.05,156.76 92.40,154.62 92.75,152.65 93.10,150.88 93.45,149.34 93.80,148.06 94.15,147.06 94.50,146.38 94.85,146.03 95.20,146.14 95.55,147.01 95.90,148.59 96.25,150.74 96.60,153.36 96.95,156.33 97.30,159.53 97.65,162.85 98.00,166.17 98.35,169.37 98.70,172.34 99.05,174.96 99.40,177.11 99.75,178.69 100.10,179.56 100.45,179.65 100.80,179.19 101.15,178.35 101.50,177.30 101.85,176.16 102.20,175.09 102.55,174.21 102.90,173.69 103.25,173.63 103.60,173.89 103.95,174.41 104.30,175.16 104.65,176.10 105.00,177.20 105.35,178.42 105.70,179.74 106.05,181.13 106.40,182.55 106.75,183.97 107.10,185.36 107.45,186.68 107.80,187.90 108.15,189.00 108.50,189.94 108.85,190.69 109.20,191.21 109.55,191.47 109.90,191.46 110.25,191.20 110.60,190.73 110.95,190.06 111.30,189.23 111.65,188.26 112.00,187.18 112.35,186.01 112.70,184.77 113.05,183.49 113.40,182.20 113.75,180.91 114.10,179.67 114.45,178.48 114.80,177.38 115.15,176.40 115.50,175.55 115.85,174.86 116.20,174.35 116.55,174.06 116.90,174.01 117.25,174.22 117.60,174.64 117.95,175.20 118.30,175.86 118.65,176.54 119.00,177.19 119.35,177.73 119.70,178.13 120.05,178.30 120.40,178.05 120.75,177.21 121.10,175.87 121.45,174.16 121.80,172.19 122.15,170.07 122.50,167.91 122.85,165.84 123.20,163.97 123.55,162.40 123.90,161.26 124.25,160.66 124.60,160.71 124.95,161.35 125.30,162.51 125.65,164.06 126.00,165.92 126.35,167.99 126.70,170.15 127.05,172.31 127.40,174.38 127.75,176.24 128.10,177.79 128.45,178.95 128.80,179.59 129.15,179.66 129.50,179.28 129.85,178.59 130.20,177.67 130.55,176.65 130.90,175.61 131.25,174.66 131.60,173.89 131.95,173.41 132.30,173.33 132.65,173.91 133.00,175.11 133.35,176.79 133.70,178.83 134.05,181.07 134.40,183.40 134.75,185.66 135.10,187.74 135.45,189.48 135.80,190.75 136.15,191.43 136.50,191.44 136.85,191.04 137.20,190.31 137.55,189.27 137.90,187.95 138.25,186.38 138.60,184.59 138.95,182.61 139.30,180.47 139.65,178.19 140.00,175.80 140.35,173.34 140.70,170.84 141.05,168.32 141.40,165.81 141.75,163.34 142.10,160.95 142.45,158.65 142.80,156.49 143.15,154.48 143.50,152.66 143.85,151.06 144.20,149.70 144.55,148.62 144.90,147.84 145.25,147.40 145.60,147.32 145.95,147.72 146.30,148.55 146.65,149.69 147.00,151.04 147.35,152.50 147.70,153.96 148.05,155.31 148.40,156.45 148.75,157.28 149.10,157.68 149.45,157.59 149.80,157.10 150.15,156.29 150.50,155.23 150.85,153.99 151.20,152.64 151.55,151.26 151.90,149.93 152.25,148.71 152.60,147.68 152.95,146.91 153.30,146.47 153.65,146.44 154.00,146.86 154.35,147.68 154.70,148.82 155.05,150.22 155.40,151.82 155.75,153.55 156.10,155.35 156.45,157.15 156.80,158.88 157.15,160.48 157.50,161.88 157.85,163.02 158.20,163.84 158.55,164.26 158.90,164.24 159.25,163.88 159.60,163.28 159.95,162.54 160.30,161.75 160.65,161.03 161.00,160.45 161.35,160.13 161.70,160.21 162.05,160.92 162.40,162.16 162.75,163.82 163.10,165.78 163.45,167.93 163.80,170.15 164.15,172.32 164.50,174.32 164.85,176.03 165.20,177.34 165.55,178.12 165.90,178.28 166.25,177.86 166.60,176.95 166.95,175.62 167.30,173.92 167.65,171.92 168.00,169.67 168.35,167.23 168.70,164.66 169.05,162.03 169.40,159.39 169.75,156.79 170.10,154.31 170.45,152.00 170.80,149.92 171.15,148.13 171.50,146.69 171.85,145.66 172.20,145.09 172.55,145.02 172.90,145.18 173.25,145.51 173.60,146.02 173.95,146.71 174.30,147.57 174.65,148.61 175.00,149.83 175.35,151.22 175.70,152.80 176.05,154.56 176.40,156.50 176.75,158.62 177.10,160.93 177.45,163.42 177.80,166.09 178.15,168.95 178.50,172.00"/>
<polyline stroke="#D95319" points="45.50,169.30 45.85,169.30 46.20,169.30 46.55,169.30 46.90,169.30 47.25,169.30 47.60,169.30 47.95,169.30 48.30,169.30 48.65,169.30 49.00,169.30 49.35,169.30 49.70,169.30 50.05,169.30 50.40,169.24 50.75,169.12 51.10,168.93 51.45,168.71 51.80,168.46 52.15,168.20 52.50,167.96 52.85,167.74 53.20,167.56 53.55,167.44 53.90,167.40 54.25,167.66 54.60,168.37 54.95,169.44 55.30,170.75 55.65,172.21 56.00,173.71 56.35,175.15 56.70,176.43 57.05,177.45 57.40,178.11 57.75,178.29 58.10,177.62 58.45,176.03 58.80,173.68 59.15,170.75 59.50,167.39 59.85,163.77 60.20,160.06 60.55,156.42 60.90,153.01 61.25,150.01 61.60,147.57 61.95,145.86 62.30,145.04 62.65,145.27 63.00,146.45 63.35,148.39 63.70,150.88 64.05,153.72 64.40,156.71 64.75,159.63 65.10,162.30 65.45,164.50 65.80,166.03 66.15,166.69 66.50,166.43 66.85,165.50 67.20,164.01 67.55,162.08 67.90,159.82 68.25,157.35 68.60,154.78 68.95,152.23 69.30,149.81 69.65,147.63 70.00,145.82 70.35,144.47 70.70,143.72 71.05,143.78 71.40,145.44 71.75,148.62 72.10,152.98 72.45,158.20 72.80,163.97 73.15,169.97 73.50,175.88 73.85,181.37 74.20,186.14 74.55,189.86 74.90,192.21 75.25,192.90 75.60,192.61 75.95,191.91 76.30,190.83 76.65,189.41 77.00,187.69 77.35,185.70 77.70,183.49 78.05,181.09 78.40,178.54 78.75,175.87 79.10,173.13 79.45,170.35 79.80,167.57 80.15,164.83 80.50,162.16 80.85,159.61 81.20,157.21 81.55,155.00 81.90,153.01 82.25,151.29 82.60,149.87 82.95,148.79 83.30,148.09 83.65,147.80 84.00,148.03 84.35,148.83 84.70,150.16 85.05,151.96 85.40,154.15 85.75,156.68 86.10,159.50 86.45,162.53 86.80,165.72 87.15,169.00 87.50,172.32 87.85,175.62 88.20,178.82 88.55,181.88 88.90,184.73 89.25,187.31 89.60,189.55 89.95,191.41 90.30,192.81 90.65,193.69 91.00,194.00 91.35,193.30 91.70,191.33 92.05,188.31 92.40,184.44 92.75,179.91 93.10,174.95 93.45,169.75 93.80,164.52 94.15,159.47 94.50,154.80 94.85,150.72 95.20,147.43 95.55,145.14 95.90,144.06 96.25,144.27 96.60,145.45 96.95,147.39 97.30,149.88 97.65,152.72 98.00,155.71 98.35,158.63 98.70,161.30 99.05,163.50 99.40,165.03 99.75,165.69 100.10,165.53 100.45,164.94 100.80,164.05 101.15,162.96 101.50,161.78 101.85,160.61 102.20,159.57 102.55,158.76 102.90,158.28 103.25,158.25 103.60,158.78 103.95,159.82 104.30,161.31 104.65,163.18 105.00,165.37 105.35,167.82 105.70,170.46 106.05,173.22 106.40,176.05 106.75,178.88 107.10,181.64 107.45,184.28 107.80,186.73 108.15,188.92 108.50,190.79 108.85,192.28 109.20,193.32 109.55,193.85 109.90,193.83 110.25,193.37 110.60,192.54 110.95,191.36 111.30,189.88 111.65,188.14 112.00,186.18 112.35,184.05 112.70,181.78 113.05,179.41 113.40,176.99 113.75,174.57 114.10,172.17 114.45,169.84 114.80,167.62 115.15,165.56 115.50,163.69 115.85,162.05 116.20,160.70 116.55,159.66 116.90,158.98 117.25,158.70 117.60,158.84 117.95,159.32 118.30,160.04 118.65,160.93 119.00,161.89 119.35,162.84 119.70,163.69 120.05,164.35 120.40,164.74 120.75,164.73 121.10,164.06 121.45,162.79 121.80,161.05 122.15,158.98 122.50,156.70 122.85,154.34 123.20,152.04 123.55,149.93 123.90,148.13 124.25,146.79 124.60,146.02 124.95,146.03 125.30,147.22 125.65,149.49 126.00,152.60 126.35,156.31 126.70,160.39 127.05,164.61 127.40,168.72 127.75,172.50 128.10,175.71 128.45,178.11 128.80,179.48 129.15,179.66 129.50,179.28 129.85,178.59 130.20,177.67 130.55,176.65 130.90,175.61 131.25,174.66 131.60,173.89 131.95,173.41 132.30,173.32 132.65,173.74 133.00,174.61 133.35,175.86 133.70,177.41 134.05,179.16 134.40,181.05 134.75,182.98 135.10,184.88 135.45,186.65 135.80,188.23 136.15,189.53 136.50,190.46 136.85,190.95 137.20,190.98 137.55,190.87 137.90,190.67 138.25,190.40 138.60,190.09 138.95,189.75 139.30,189.40 139.65,189.06 140.00,188.76 140.35,188.50 140.70,188.31 141.05,188.21 141.40,188.26 141.75,188.62 142.10,189.24 142.45,190.03 142.80,190.92 143.15,191.82 143.50,192.65 143.85,193.32 144.20,193.77 144.55,193.89 144.90,193.17 145.25,191.46 145.60,188.95 145.95,185.80 146.30,182.20 146.65,178.32 147.00,174.34 147.35,170.44 147.70,166.79 148.05,163.57 148.40,160.95 148.75,159.12 149.10,158.25 149.45,158.54 149.80,160.06 150.15,162.60 150.50,165.91 150.85,169.77 151.20,173.96 151.55,178.25 151.90,182.41 152.25,186.21 152.60,189.42 152.95,191.82 153.30,193.18 153.65,193.34 154.00,192.76 154.35,191.65 154.70,190.11 155.05,188.23 155.40,186.13 155.75,183.90 156.10,181.64 156.45,179.45 156.80,177.43 157.15,175.69 157.50,174.32 157.85,173.42 158.20,173.10 158.55,173.41 158.90,174.21 159.25,175.35 159.60,176.65 159.95,177.95 160.30,179.09 160.65,179.89 161.00,180.20 161.35,179.76 161.70,178.53 162.05,176.62 162.40,174.17 162.75,171.29 163.10,168.11 163.45,164.76 163.80,161.35 164.15,158.02 164.50,154.88 164.85,152.05 165.20,149.67 165.55,147.85 165.90,146.72 166.25,146.40 166.60,146.67 166.95,147.31 167.30,148.26 167.65,149.46 168.00,150.87 168.35,152.41 168.70,154.05 169.05,155.71 169.40,157.34 169.75,158.88 170.10,160.29 170.45,161.52 170.80,162.76 171.15,164.04 171.50,165.33 171.85,166.62 172.20,167.88 172.55,169.08 172.90,170.21 173.25,171.24 173.60,172.14 173.95,172.90 174.30,173.55 174.65,174.17 175.00,174.76 175.35,175.32 175.70,175.84 176.05,176.32 176.40,176.75 176.75,177.14 177.10,177.48 177.45,177.77 177.80,178.00 178.15,178.19 178.50,178.35 178.85,178.46 179.00,178.50"/>
</g>
<rect x="230.15" y="138.90" width="131.75" height="60.70" fill="none" stroke="#101010" stroke-width="1.8"/>
<path d="M249.86 199.60v-2.2M249.86 138.90v2.2" stroke="#101010" stroke-width="1"/>
<path d="M270.61 199.60v-2.2M270.61 138.90v2.2" stroke="#101010" stroke-width="1"/>
<path d="M291.36 199.60v-2.2M291.36 138.90v2.2" stroke="#101010" stroke-width="1"/>
<path d="M312.10 199.60v-2.2M312.10 138.90v2.2" stroke="#101010" stroke-width="1"/>
<path d="M332.85 199.60v-2.2M332.85 138.90v2.2" stroke="#101010" stroke-width="1"/>
<path d="M353.60 199.60v-2.2M353.60 138.90v2.2" stroke="#101010" stroke-width="1"/>
<text x="249.66" y="218.80" font-size="12.7" text-anchor="middle">20</text>
<text x="291.16" y="218.80" font-size="12.7" text-anchor="middle">60</text>
<text x="332.65" y="218.80" font-size="12.7" text-anchor="middle">100</text>
<path d="M230.15 139.00h2.2M361.90 139.00h-2.2" stroke="#101010" stroke-width="1"/>
<text x="224.75" y="143.90" font-size="12.7" text-anchor="end">2</text>
<path d="M230.15 169.30h2.2M361.90 169.30h-2.2" stroke="#101010" stroke-width="1"/>
<text x="224.75" y="174.20" font-size="12.7" text-anchor="end">0</text>
<path d="M230.15 199.60h2.2M361.90 199.60h-2.2" stroke="#101010" stroke-width="1"/>
<text x="224.75" y="204.50" font-size="12.7" text-anchor="end">2</text>
<text x="211.05" y="203.90" font-size="10" text-anchor="middle">&#8722;</text>
<text x="295.57" y="133.95" font-size="12.7" text-anchor="middle">PAM4</text>
<text x="295.47" y="236.10" font-size="12.7" text-anchor="middle">Sampling point</text>
<text transform="translate(198.15,169.70) rotate(-90)" x="0" y="0" font-size="12.7" text-anchor="middle">Amplitude</text>
<g clip-path="url(#c4)" fill="none" stroke-width="2.0" stroke-linejoin="round" stroke-linecap="butt">
<polyline stroke="#0072BD" points="230.00,169.30 230.35,169.30 230.70,169.31 231.05,169.33 231.40,169.35 231.75,169.38 232.10,169.41 232.45,169.44 232.80,169.48 233.15,169.52 233.50,169.58 233.85,169.67 234.20,169.78 234.55,169.90 234.90,170.03 235.25,170.16 235.60,170.29 235.95,170.41 236.30,170.51 236.65,170.60 237.00,170.66 237.35,170.70 237.70,170.63 238.05,170.20 238.40,169.45 238.75,168.44 239.10,167.26 239.45,165.97 239.80,164.65 240.15,163.37 240.50,162.20 240.85,161.23 241.20,160.51 241.55,160.14 241.90,160.22 242.25,160.93 242.60,162.23 242.95,164.03 243.30,166.23 243.65,168.75 244.00,171.49 244.35,174.37 244.70,177.31 245.05,180.20 245.40,182.97 245.75,185.53 246.10,187.78 246.45,189.64 246.80,191.01 247.15,191.82 247.50,191.98 247.85,191.69 248.20,191.08 248.55,190.27 248.90,189.32 249.25,188.34 249.60,187.41 249.95,186.62 250.30,186.05 250.65,185.80 251.00,185.99 251.35,186.62 251.70,187.58 252.05,188.76 252.40,190.03 252.75,191.29 253.10,192.42 253.45,193.30 253.80,193.81 254.15,193.82 254.50,193.00 254.85,191.39 255.20,189.11 255.55,186.26 255.90,182.94 256.25,179.25 256.60,175.31 256.95,171.22 257.30,167.09 257.65,163.01 258.00,159.10 258.35,155.46 258.70,152.20 259.05,149.42 259.40,147.23 259.75,145.74 260.10,145.04 260.45,145.07 260.80,145.40 261.15,145.97 261.50,146.75 261.85,147.71 262.20,148.83 262.55,150.07 262.90,151.40 263.25,152.80 263.60,154.24 263.95,155.68 264.30,157.11 264.65,158.48 265.00,159.78 265.35,160.97 265.70,162.02 266.05,162.91 266.40,163.60 266.75,164.07 267.10,164.29 267.45,164.20 267.80,163.75 268.15,162.99 268.50,161.97 268.85,160.74 269.20,159.34 269.55,157.84 269.90,156.27 270.25,154.71 270.60,153.18 270.95,151.75 271.30,150.46 271.65,149.37 272.00,148.53 272.35,147.99 272.70,147.80 273.05,147.95 273.40,148.35 273.75,148.92 274.10,149.60 274.45,150.30 274.80,150.97 275.15,151.52 275.50,151.89 275.85,151.99 276.20,151.64 276.55,150.83 276.90,149.71 277.25,148.44 277.60,147.14 277.95,145.97 278.30,145.06 278.65,144.55 279.00,144.73 279.35,146.16 279.70,148.73 280.05,152.22 280.40,156.44 280.75,161.18 281.10,166.24 281.45,171.42 281.80,176.51 282.15,181.31 282.50,185.62 282.85,189.23 283.20,191.94 283.55,193.54 283.90,193.84 284.25,192.66 284.60,190.20 284.95,186.69 285.30,182.35 285.65,177.44 286.00,172.19 286.35,166.84 286.70,161.63 287.05,156.79 287.40,152.56 287.75,149.18 288.10,146.88 288.45,145.92 288.80,146.06 289.15,146.63 289.50,147.57 289.85,148.86 290.20,150.44 290.55,152.30 290.90,154.38 291.25,156.66 291.60,159.10 291.95,161.65 292.30,164.29 292.65,166.98 293.00,169.68 293.35,172.35 293.70,174.95 294.05,177.46 294.40,179.84 294.75,182.03 295.10,184.03 295.45,185.77 295.80,187.23 296.15,188.38 296.50,189.16 296.85,189.56 297.20,189.55 297.55,189.23 297.90,188.65 298.25,187.80 298.60,186.73 298.95,185.44 299.30,183.96 299.65,182.31 300.00,180.51 300.35,178.58 300.70,176.54 301.05,174.41 301.40,172.21 301.75,169.97 302.10,167.70 302.45,165.43 302.80,163.16 303.15,160.94 303.50,158.77 303.85,156.68 304.20,154.68 304.55,152.80 304.90,151.07 305.25,149.49 305.60,148.09 305.95,146.89 306.30,145.91 306.65,145.17 307.00,144.70 307.35,144.50 307.70,144.96 308.05,146.54 308.40,149.09 308.75,152.44 309.10,156.41 309.45,160.83 309.80,165.52 310.15,170.30 310.50,175.02 310.85,179.48 311.20,183.52 311.55,186.97 311.90,189.65 312.25,191.38 312.60,192.00 312.95,191.74 313.30,190.98 313.65,189.79 314.00,188.20 314.35,186.26 314.70,184.02 315.05,181.54 315.40,178.86 315.75,176.02 316.10,173.08 316.45,170.08 316.80,167.08 317.15,164.11 317.50,161.24 317.85,158.51 318.20,155.96 318.55,153.65 318.90,151.62 319.25,149.93 319.60,148.61 319.95,147.73 320.30,147.32 320.65,147.54 321.00,148.65 321.35,150.54 321.70,153.09 322.05,156.20 322.40,159.73 322.75,163.59 323.10,167.65 323.45,171.78 323.80,175.89 324.15,179.85 324.50,183.53 324.85,186.84 325.20,189.64 325.55,191.83 325.90,193.29 326.25,193.89 326.60,193.80 326.95,193.44 327.30,192.86 327.65,192.12 328.00,191.24 328.35,190.27 328.70,189.26 329.05,188.24 329.40,187.27 329.75,186.27 330.10,185.02 330.45,183.57 330.80,182.01 331.15,180.39 331.50,178.79 331.85,177.29 332.20,175.95 332.55,174.85 332.90,174.06 333.25,173.64 333.60,173.71 333.95,174.42 334.30,175.65 334.65,177.31 335.00,179.25 335.35,181.37 335.70,183.54 336.05,185.64 336.40,187.55 336.75,189.15 337.10,190.32 337.45,190.94 337.80,190.93 338.15,190.47 338.50,189.65 338.85,188.53 339.20,187.16 339.55,185.62 339.90,183.96 340.25,182.25 340.60,180.55 340.95,178.92 341.30,177.43 341.65,176.13 342.00,175.08 342.35,174.36 342.70,174.02 343.05,174.05 343.40,174.23 343.75,174.52 344.10,174.84 344.45,175.15 344.80,175.39 345.15,175.50 345.50,175.44 345.85,175.28 346.20,175.10 346.55,175.00 346.90,175.13 347.25,175.57 347.60,176.22 347.95,176.99 348.30,177.76 348.65,178.46 349.00,178.97 349.35,179.20 349.70,178.86 350.05,177.68 350.40,175.79 350.75,173.32 351.10,170.40 351.45,167.18 351.80,163.78 352.15,160.35 352.50,157.01 352.85,153.90 353.20,151.16 353.55,148.92 353.90,147.32 354.25,146.49 354.60,146.56 354.95,147.56 355.30,149.36 355.65,151.80 356.00,154.73 356.35,158.02 356.70,161.52 357.05,165.08 357.40,168.56 357.75,171.81 358.10,174.69 358.45,177.04 358.80,178.73 359.15,179.61 359.50,179.69 359.85,179.59 360.20,179.36 360.55,178.99 360.90,178.45 361.25,177.70 361.60,176.73 361.95,175.49 362.30,173.98 362.65,172.16 363.00,170.00"/>
<polyline stroke="#D95319" points="230.00,169.30 230.35,169.30 230.70,169.30 231.05,169.30 231.40,169.30 231.75,169.30 232.10,169.30 232.45,169.30 232.80,169.30 233.15,169.30 233.50,169.30 233.85,169.30 234.20,169.30 234.55,169.30 234.90,169.30 235.25,169.30 235.60,169.30 235.95,169.30 236.30,169.30 236.65,169.30 237.00,169.30 237.35,169.30 237.70,169.30 238.05,169.30 238.40,169.30 238.75,169.30 239.10,169.30 239.45,169.30 239.80,169.30 240.15,169.30 240.50,169.30 240.85,169.30 241.20,169.30 241.55,169.30 241.90,169.30 242.25,169.30 242.60,169.30 242.95,169.30 243.30,169.30 243.65,169.30 244.00,169.30 244.35,169.30 244.70,169.30 245.05,169.30 245.40,169.30 245.75,169.30 246.10,169.30 246.45,169.30 246.80,169.30 247.15,169.30 247.50,169.30 247.85,169.30 248.20,169.30 248.55,169.30 248.90,169.30 249.25,169.30 249.60,169.30 249.95,169.30 250.30,169.30 250.65,169.30 251.00,169.30 251.35,169.30 251.70,169.30 252.05,169.30 252.40,169.30 252.75,169.30 253.10,169.30 253.45,169.30 253.80,169.30 254.15,169.30 254.50,169.30 254.85,169.30 255.20,169.30 255.55,169.30 255.90,169.30 256.25,169.30 256.60,169.30 256.95,169.30 257.30,169.30 257.65,169.30 258.00,169.30 258.35,169.30 258.70,169.30 259.05,169.30 259.40,169.30 259.75,169.30 260.10,169.30 260.45,169.30 260.80,169.30 261.15,169.30 261.50,169.30 261.85,169.30 262.20,169.30 262.55,169.30 262.90,169.30 263.25,169.30 263.60,169.30 263.95,169.30 264.30,169.30 264.65,169.30 265.00,169.30 265.35,169.30 265.70,169.30 266.05,169.30 266.40,169.30 266.75,169.30 267.10,169.30 267.45,169.30 267.80,169.30 268.15,169.30 268.50,169.30 268.85,169.30 269.20,169.30 269.55,169.30 269.90,169.30 270.25,169.30 270.60,169.30 270.95,169.30 271.30,169.30 271.65,169.30 272.00,169.30 272.35,169.30 272.70,169.30 273.05,169.30 273.40,169.30 273.75,169.30 274.10,169.30 274.45,169.30 274.80,169.30 275.15,169.30 275.50,169.30 275.85,169.30 276.20,169.30 276.55,169.30 276.90,169.30 277.25,169.30 277.60,169.30 277.95,169.30 278.30,169.30 278.65,169.30 279.00,169.30 279.35,169.30 279.70,169.30 280.05,169.30 280.40,169.30 280.75,169.30 281.10,169.30 281.45,169.30 281.80,169.30 282.15,169.30 282.50,169.30 282.85,169.30 283.20,169.30 283.55,169.30 283.90,169.30 284.25,169.30 284.60,169.30 284.95,169.30 285.30,169.30 285.65,169.30 286.00,169.30 286.35,169.30 286.70,169.30 287.05,169.30 287.40,169.30 287.75,169.30 288.10,169.30 288.45,169.30 288.80,169.30 289.15,169.30 289.50,169.30 289.85,169.30 290.20,169.30 290.55,169.30 290.90,169.30 291.25,169.30 291.60,169.30 291.95,169.30 292.30,169.30 292.65,169.30 293.00,169.30 293.35,169.30 293.70,169.30 294.05,169.30 294.40,169.30 294.75,169.30 295.10,169.30 295.45,169.30 295.80,169.30 296.15,169.30 296.50,169.30 296.85,169.30 297.20,169.30 297.55,169.30 297.90,169.30 298.25,169.30 298.60,169.30 298.95,169.30 299.30,169.30 299.65,169.30 300.00,169.30 300.35,169.30 300.70,169.30 301.05,169.30 301.40,169.30 301.75,169.30 302.10,169.30 302.45,169.30 302.80,169.30 303.15,169.30 303.50,169.30 303.85,169.30 304.20,169.30 304.55,169.30 304.90,169.30 305.25,169.30 305.60,169.30 305.95,169.30 306.30,169.30 306.65,169.30 307.00,169.30 307.35,169.30 307.70,169.30 308.05,169.30 308.40,169.30 308.75,169.30 309.10,169.30 309.45,169.30 309.80,169.30 310.15,169.30 310.50,169.30 310.85,169.30 311.20,169.30 311.55,169.30 311.90,169.30 312.25,169.30 312.60,169.30 312.95,169.30 313.30,169.30 313.65,169.30 314.00,169.30 314.35,169.30 314.70,169.30 315.05,169.30 315.40,169.30 315.75,169.30 316.10,169.30 316.45,169.30 316.80,169.30 317.15,169.30 317.50,169.30 317.85,169.30 318.20,169.30 318.55,169.30 318.90,169.30 319.25,169.30 319.60,169.30 319.95,169.30 320.30,169.30 320.65,169.30 321.00,169.30 321.35,169.30 321.70,169.30 322.05,169.30 322.40,169.30 322.75,169.30 323.10,169.30 323.45,169.30 323.80,169.30 324.15,169.30 324.50,169.30 324.85,169.30 325.20,169.30 325.55,169.30 325.90,169.30 326.25,169.30 326.60,169.30 326.95,169.30 327.30,169.30 327.65,169.30 328.00,169.30 328.35,169.30 328.70,169.30 329.05,169.30 329.40,169.30 329.75,169.30 330.10,169.30 330.45,169.30 330.80,169.30 331.15,169.30 331.50,169.30 331.85,169.30 332.20,169.30 332.55,169.30 332.90,169.30 333.25,169.30 333.60,169.30 333.95,169.30 334.30,169.30 334.65,169.30 335.00,169.30 335.35,169.30 335.70,169.30 336.05,169.30 336.40,169.30 336.75,169.30 337.10,169.30 337.45,169.30 337.80,169.30 338.15,169.30 338.50,169.30 338.85,169.30 339.20,169.30 339.55,169.30 339.90,169.30 340.25,169.30 340.60,169.30 340.95,169.30 341.30,169.30 341.65,169.30 342.00,169.30 342.35,169.30 342.70,169.30 343.05,169.30 343.40,169.30 343.75,169.30 344.10,169.30 344.45,169.30 344.80,169.30 345.15,169.30 345.50,169.30 345.85,169.30 346.20,169.30 346.55,169.30 346.90,169.30 347.25,169.30 347.60,169.30 347.95,169.30 348.30,169.30 348.65,169.30 349.00,169.30 349.35,169.30 349.70,169.30 350.05,169.30 350.40,169.30 350.75,169.30 351.10,169.30 351.45,169.30 351.80,169.30 352.15,169.30 352.50,169.30 352.85,169.30 353.20,169.30 353.55,169.30 353.90,169.30 354.25,169.30 354.60,169.30 354.95,169.30 355.30,169.30 355.65,169.30 356.00,169.30 356.35,169.30 356.70,169.30 357.05,169.30 357.40,169.30 357.75,169.30 358.10,169.30 358.45,169.30 358.80,169.30 359.15,169.30 359.50,169.30 359.85,169.30 360.20,169.30 360.55,169.30 360.90,169.30 361.25,169.30 361.60,169.30 361.95,169.30 362.30,169.30 362.65,169.30 363.00,169.30"/>
</g>
<rect x="414.20" y="138.90" width="131.75" height="60.70" fill="none" stroke="#101010" stroke-width="1.8"/>
<path d="M433.91 199.60v-2.2M433.91 138.90v2.2" stroke="#101010" stroke-width="1"/>
<path d="M454.66 199.60v-2.2M454.66 138.90v2.2" stroke="#101010" stroke-width="1"/>
<path d="M475.41 199.60v-2.2M475.41 138.90v2.2" stroke="#101010" stroke-width="1"/>
<path d="M496.15 199.60v-2.2M496.15 138.90v2.2" stroke="#101010" stroke-width="1"/>
<path d="M516.90 199.60v-2.2M516.90 138.90v2.2" stroke="#101010" stroke-width="1"/>
<path d="M537.65 199.60v-2.2M537.65 138.90v2.2" stroke="#101010" stroke-width="1"/>
<text x="433.71" y="218.80" font-size="12.7" text-anchor="middle">20</text>
<text x="475.21" y="218.80" font-size="12.7" text-anchor="middle">60</text>
<text x="516.70" y="218.80" font-size="12.7" text-anchor="middle">100</text>
<path d="M414.20 154.20h2.2M545.95 154.20h-2.2" stroke="#101010" stroke-width="1"/>
<text x="408.80" y="159.10" font-size="12.7" text-anchor="end">1</text>
<path d="M414.20 169.30h2.2M545.95 169.30h-2.2" stroke="#101010" stroke-width="1"/>
<text x="408.80" y="174.20" font-size="12.7" text-anchor="end">0.5</text>
<path d="M414.20 184.40h2.2M545.95 184.40h-2.2" stroke="#101010" stroke-width="1"/>
<text x="408.80" y="189.30" font-size="12.7" text-anchor="end">0</text>
<text x="479.62" y="133.95" font-size="12.7" text-anchor="middle">2ASK</text>
<text x="479.52" y="236.10" font-size="12.7" text-anchor="middle">Sampling point</text>
<text transform="translate(385.50,169.70) rotate(-90)" x="0" y="0" font-size="12.7" text-anchor="middle">Amplitude</text>
<g clip-path="url(#c5)" fill="none" stroke-width="2.0" stroke-linejoin="round" stroke-linecap="butt">
<polyline stroke="#0072BD" points="414.20,184.20 414.55,183.91 414.90,183.67 415.25,183.48 415.60,183.33 415.95,183.21 416.30,183.13 416.65,183.07 417.00,183.03 417.35,183.01 417.70,183.00 418.05,183.00 418.40,183.08 418.75,183.53 419.10,184.30 419.45,185.28 419.80,186.39 420.15,187.51 420.50,188.54 420.85,189.38 421.20,189.93 421.55,190.09 421.90,189.28 422.25,187.37 422.60,184.52 422.95,180.91 423.30,176.72 423.65,172.12 424.00,167.30 424.35,162.42 424.70,157.67 425.05,153.23 425.40,149.26 425.75,145.96 426.10,143.48 426.45,142.02 426.80,141.75 427.15,142.72 427.50,144.69 427.85,147.45 428.20,150.72 428.55,154.28 428.90,157.88 429.25,161.26 429.60,164.19 429.95,166.41 430.30,167.69 430.65,167.83 431.00,167.15 431.35,165.84 431.70,164.02 432.05,161.82 432.40,159.34 432.75,156.71 433.10,154.05 433.45,151.47 433.80,149.10 434.15,147.05 434.50,145.43 434.85,144.38 435.20,144.00 435.55,144.08 435.90,144.29 436.25,144.62 436.60,145.01 436.95,145.46 437.30,145.91 437.65,146.35 438.00,146.73 438.35,147.04 438.70,147.24 439.05,147.30 439.40,147.19 439.75,146.95 440.10,146.60 440.45,146.18 440.80,145.72 441.15,145.25 441.50,144.82 441.85,144.44 442.20,144.16 442.55,144.02 442.90,144.12 443.25,144.85 443.60,146.16 443.95,147.93 444.30,150.07 444.65,152.45 445.00,154.97 445.35,157.52 445.70,160.00 446.05,162.28 446.40,164.28 446.75,165.86 447.10,166.94 447.45,167.39 447.80,166.92 448.15,165.30 448.50,162.78 448.85,159.63 449.20,156.11 449.55,152.47 449.90,148.99 450.25,145.91 450.60,143.51 450.95,142.04 451.30,141.74 451.65,142.41 452.00,143.81 452.35,145.81 452.70,148.27 453.05,151.04 453.40,153.99 453.75,156.99 454.10,159.88 454.45,162.53 454.80,164.81 455.15,166.57 455.50,167.68 455.85,167.99 456.20,167.27 456.55,165.60 456.90,163.18 457.25,160.23 457.60,156.94 457.95,153.54 458.30,150.23 458.65,147.21 459.00,144.70 459.35,142.91 459.70,142.05 460.05,142.29 460.40,143.58 460.75,145.70 461.10,148.45 461.45,151.62 461.80,155.00 462.15,158.38 462.50,161.55 462.85,164.30 463.20,166.42 463.55,167.71 463.90,167.97 464.25,167.38 464.60,166.15 464.95,164.39 465.30,162.23 465.65,159.77 466.00,157.15 466.35,154.47 466.70,151.86 467.05,149.44 467.40,147.33 467.75,145.64 468.10,144.49 468.45,144.01 468.80,144.10 469.15,144.42 469.50,144.91 469.85,145.49 470.20,146.10 470.55,146.67 470.90,147.14 471.25,147.43 471.60,147.49 471.95,147.38 472.30,147.14 472.65,146.80 473.00,146.39 473.35,145.95 473.70,145.49 474.05,145.05 474.40,144.65 474.75,144.32 475.10,144.10 475.45,144.00 475.80,144.13 476.15,144.61 476.50,145.38 476.85,146.43 477.20,147.71 477.55,149.18 477.90,150.80 478.25,152.54 478.60,154.37 478.95,156.23 479.30,158.10 479.65,159.94 480.00,161.71 480.35,163.37 480.70,164.89 481.05,166.23 481.40,167.34 481.75,168.20 482.10,168.76 482.45,169.00 482.80,168.87 483.15,168.41 483.50,167.64 483.85,166.62 484.20,165.37 484.55,163.93 484.90,162.33 485.25,160.63 485.60,158.84 485.95,157.01 486.30,155.18 486.65,153.38 487.00,151.64 487.35,150.01 487.70,148.53 488.05,147.22 488.40,146.12 488.75,145.28 489.10,144.73 489.45,144.50 489.80,144.56 490.15,144.74 490.50,145.02 490.85,145.35 491.20,145.70 491.55,146.03 491.90,146.29 492.25,146.46 492.60,146.50 492.95,146.50 493.30,146.50 493.65,146.50 494.00,146.50 494.35,146.50 494.70,146.50 495.05,146.50 495.40,146.50 495.75,146.50 496.10,146.50 496.45,146.50 496.80,146.50 497.15,146.50 497.50,146.50 497.85,146.41 498.20,146.16 498.55,145.80 498.90,145.37 499.25,144.94 499.60,144.54 499.95,144.22 500.30,144.03 500.65,144.06 501.00,144.67 501.35,145.84 501.70,147.48 502.05,149.49 502.40,151.76 502.75,154.21 503.10,156.72 503.45,159.21 503.80,161.56 504.15,163.70 504.50,165.50 504.85,166.89 505.20,167.75 505.55,167.99 505.90,167.27 506.25,165.60 506.60,163.18 506.95,160.23 507.30,156.94 507.65,153.54 508.00,150.23 508.35,147.21 508.70,144.70 509.05,142.91 509.40,142.05 509.75,142.29 510.10,143.58 510.45,145.70 510.80,148.45 511.15,151.62 511.50,155.00 511.85,158.38 512.20,161.55 512.55,164.30 512.90,166.42 513.25,167.71 513.60,167.97 513.95,167.46 514.30,166.39 514.65,164.84 515.00,162.92 515.35,160.73 515.70,158.35 516.05,155.90 516.40,153.45 516.75,151.12 517.10,149.00 517.45,147.17 517.80,145.75 518.15,144.83 518.50,144.50 518.85,144.64 519.20,144.95 519.55,145.28 519.90,145.49 520.25,145.43 520.60,145.15 520.95,144.80 521.30,144.55 521.65,144.58 522.00,145.32 522.35,146.75 522.70,148.71 523.05,151.08 523.40,153.72 523.75,156.50 524.10,159.28 524.45,161.92 524.80,164.29 525.15,166.25 525.50,167.68 525.85,168.42 526.20,168.33 526.55,167.26 526.90,165.37 527.25,162.86 527.60,159.89 527.95,156.67 528.30,153.36 528.65,150.16 529.00,147.25 529.35,144.82 529.70,143.04 530.05,142.10 530.40,142.17 530.75,143.21 531.10,145.05 531.45,147.52 531.80,150.43 532.15,153.62 532.50,156.91 532.85,160.12 533.20,163.09 533.55,165.63 533.90,167.57 534.25,168.74 534.60,168.95 534.95,168.07 535.30,166.24 535.65,163.69 536.00,160.62 536.35,157.24 536.70,153.77 537.05,150.42 537.40,147.41 537.75,144.95 538.10,143.24 538.45,142.51 538.80,142.76 539.15,143.68 539.50,145.15 539.85,147.07 540.20,149.34 540.55,151.84 540.90,154.49 541.25,157.16 541.60,159.75 541.95,162.17 542.30,164.30 542.65,166.04 543.00,167.29 543.35,167.93 543.70,167.98 544.05,167.86 544.40,167.60 544.75,167.20 545.10,166.63 545.45,165.88 545.80,164.94 546.15,163.78 546.50,162.40 546.85,160.77 547.00,160.00"/>
<polyline stroke="#D95319" points="414.20,184.40 414.55,184.40 414.90,184.40 415.25,184.40 415.60,184.40 415.95,184.40 416.30,184.40 416.65,184.40 417.00,184.40 417.35,184.40 417.70,184.40 418.05,184.40 418.40,184.40 418.75,184.40 419.10,184.40 419.45,184.40 419.80,184.40 420.15,184.40 420.50,184.40 420.85,184.40 421.20,184.40 421.55,184.40 421.90,184.40 422.25,184.40 422.60,184.40 422.95,184.40 423.30,184.40 423.65,184.40 424.00,184.40 424.35,184.40 424.70,184.40 425.05,184.40 425.40,184.40 425.75,184.40 426.10,184.40 426.45,184.40 426.80,184.40 427.15,184.40 427.50,184.40 427.85,184.40 428.20,184.40 428.55,184.40 428.90,184.40 429.25,184.40 429.60,184.40 429.95,184.40 430.30,184.40 430.65,184.40 431.00,184.40 431.35,184.40 431.70,184.40 432.05,184.40 432.40,184.40 432.75,184.40 433.10,184.40 433.45,184.40 433.80,184.40 434.15,184.40 434.50,184.40 434.85,184.40 435.20,184.40 435.55,184.40 435.90,184.40 436.25,184.40 436.60,184.40 436.95,184.40 437.30,184.40 437.65,184.40 438.00,184.40 438.35,184.40 438.70,184.40 439.05,184.40 439.40,184.40 439.75,184.40 440.10,184.40 440.45,184.40 440.80,184.40 441.15,184.40 441.50,184.40 441.85,184.40 442.20,184.40 442.55,184.40 442.90,184.40 443.25,184.40 443.60,184.40 443.95,184.40 444.30,184.40 444.65,184.40 445.00,184.40 445.35,184.40 445.70,184.40 446.05,184.40 446.40,184.40 446.75,184.40 447.10,184.40 447.45,184.40 447.80,184.40 448.15,184.40 448.50,184.40 448.85,184.40 449.20,184.40 449.55,184.40 449.90,184.40 450.25,184.40 450.60,184.40 450.95,184.40 451.30,184.40 451.65,184.40 452.00,184.40 452.35,184.40 452.70,184.40 453.05,184.40 453.40,184.40 453.75,184.40 454.10,184.40 454.45,184.40 454.80,184.40 455.15,184.40 455.50,184.40 455.85,184.40 456.20,184.40 456.55,184.40 456.90,184.40 457.25,184.40 457.60,184.40 457.95,184.40 458.30,184.40 458.65,184.40 459.00,184.40 459.35,184.40 459.70,184.40 460.05,184.40 460.40,184.40 460.75,184.40 461.10,184.40 461.45,184.40 461.80,184.40 462.15,184.40 462.50,184.40 462.85,184.40 463.20,184.40 463.55,184.40 463.90,184.40 464.25,184.40 464.60,184.40 464.95,184.40 465.30,184.40 465.65,184.40 466.00,184.40 466.35,184.40 466.70,184.40 467.05,184.40 467.40,184.40 467.75,184.40 468.10,184.40 468.45,184.40 468.80,184.40 469.15,184.40 469.50,184.40 469.85,184.40 470.20,184.40 470.55,184.40 470.90,184.40 471.25,184.40 471.60,184.40 471.95,184.40 472.30,184.40 472.65,184.40 473.00,184.40 473.35,184.40 473.70,184.40 474.05,184.40 474.40,184.40 474.75,184.40 475.10,184.40 475.45,184.40 475.80,184.40 476.15,184.40 476.50,184.40 476.85,184.40 477.20,184.40 477.55,184.40 477.90,184.40 478.25,184.40 478.60,184.40 478.95,184.40 479.30,184.40 479.65,184.40 480.00,184.40 480.35,184.40 480.70,184.40 481.05,184.40 481.40,184.40 481.75,184.40 482.10,184.40 482.45,184.40 482.80,184.40 483.15,184.40 483.50,184.40 483.85,184.40 484.20,184.40 484.55,184.40 484.90,184.40 485.25,184.40 485.60,184.40 485.95,184.40 486.30,184.40 486.65,184.40 487.00,184.40 487.35,184.40 487.70,184.40 488.05,184.40 488.40,184.40 488.75,184.40 489.10,184.40 489.45,184.40 489.80,184.40 490.15,184.40 490.50,184.40 490.85,184.40 491.20,184.40 491.55,184.40 491.90,184.40 492.25,184.40 492.60,184.40 492.95,184.40 493.30,184.40 493.65,184.40 494.00,184.40 494.35,184.40 494.70,184.40 495.05,184.40 495.40,184.40 495.75,184.40 496.10,184.40 496.45,184.40 496.80,184.40 497.15,184.40 497.50,184.40 497.85,184.40 498.20,184.40 498.55,184.40 498.90,184.40 499.25,184.40 499.60,184.40 499.95,184.40 500.30,184.40 500.65,184.40 501.00,184.40 501.35,184.40 501.70,184.40 502.05,184.40 502.40,184.40 502.75,184.40 503.10,184.40 503.45,184.40 503.80,184.40 504.15,184.40 504.50,184.40 504.85,184.40 505.20,184.40 505.55,184.40 505.90,184.40 506.25,184.40 506.60,184.40 506.95,184.40 507.30,184.40 507.65,184.40 508.00,184.40 508.35,184.40 508.70,184.40 509.05,184.40 509.40,184.40 509.75,184.40 510.10,184.40 510.45,184.40 510.80,184.40 511.15,184.40 511.50,184.40 511.85,184.40 512.20,184.40 512.55,184.40 512.90,184.40 513.25,184.40 513.60,184.40 513.95,184.40 514.30,184.40 514.65,184.40 515.00,184.40 515.35,184.40 515.70,184.40 516.05,184.40 516.40,184.40 516.75,184.40 517.10,184.40 517.45,184.40 517.80,184.40 518.15,184.40 518.50,184.40 518.85,184.40 519.20,184.40 519.55,184.40 519.90,184.40 520.25,184.40 520.60,184.40 520.95,184.40 521.30,184.40 521.65,184.40 522.00,184.40 522.35,184.40 522.70,184.40 523.05,184.40 523.40,184.40 523.75,184.40 524.10,184.40 524.45,184.40 524.80,184.40 525.15,184.40 525.50,184.40 525.85,184.40 526.20,184.40 526.55,184.40 526.90,184.40 527.25,184.40 527.60,184.40 527.95,184.40 528.30,184.40 528.65,184.40 529.00,184.40 529.35,184.40 529.70,184.40 530.05,184.40 530.40,184.40 530.75,184.40 531.10,184.40 531.45,184.40 531.80,184.40 532.15,184.40 532.50,184.40 532.85,184.40 533.20,184.40 533.55,184.40 533.90,184.40 534.25,184.40 534.60,184.40 534.95,184.40 535.30,184.40 535.65,184.40 536.00,184.40 536.35,184.40 536.70,184.40 537.05,184.40 537.40,184.40 537.75,184.40 538.10,184.40 538.45,184.40 538.80,184.40 539.15,184.40 539.50,184.40 539.85,184.40 540.20,184.40 540.55,184.40 540.90,184.40 541.25,184.40 541.60,184.40 541.95,184.40 542.30,184.40 542.65,184.40 543.00,184.40 543.35,184.40 543.70,184.40 544.05,184.40 544.40,184.40 544.75,184.40 545.10,184.40 545.45,184.40 545.80,184.40 546.15,184.40 546.50,184.40 546.85,184.40 547.00,184.40"/>
</g>
<rect x="46.00" y="258.20" width="131.75" height="61.60" fill="none" stroke="#101010" stroke-width="1.8"/>
<path d="M65.71 319.80v-2.2M65.71 258.20v2.2" stroke="#101010" stroke-width="1"/>
<path d="M86.46 319.80v-2.2M86.46 258.20v2.2" stroke="#101010" stroke-width="1"/>
<path d="M107.21 319.80v-2.2M107.21 258.20v2.2" stroke="#101010" stroke-width="1"/>
<path d="M127.95 319.80v-2.2M127.95 258.20v2.2" stroke="#101010" stroke-width="1"/>
<path d="M148.70 319.80v-2.2M148.70 258.20v2.2" stroke="#101010" stroke-width="1"/>
<path d="M169.45 319.80v-2.2M169.45 258.20v2.2" stroke="#101010" stroke-width="1"/>
<text x="65.51" y="339.00" font-size="12.7" text-anchor="middle">20</text>
<text x="107.01" y="339.00" font-size="12.7" text-anchor="middle">60</text>
<text x="148.50" y="339.00" font-size="12.7" text-anchor="middle">100</text>
<path d="M46.00 258.20h2.2M177.75 258.20h-2.2" stroke="#101010" stroke-width="1"/>
<text x="40.60" y="263.10" font-size="12.7" text-anchor="end">1</text>
<path d="M46.00 289.00h2.2M177.75 289.00h-2.2" stroke="#101010" stroke-width="1"/>
<text x="40.60" y="293.90" font-size="12.7" text-anchor="end">0</text>
<path d="M46.00 319.80h2.2M177.75 319.80h-2.2" stroke="#101010" stroke-width="1"/>
<text x="40.60" y="324.70" font-size="12.7" text-anchor="end">1</text>
<text x="26.90" y="324.10" font-size="10" text-anchor="middle">&#8722;</text>
<text x="111.42" y="253.25" font-size="12.7" text-anchor="middle">GFSK</text>
<text x="111.33" y="356.30" font-size="12.7" text-anchor="middle">Sampling point</text>
<text transform="translate(14.20,289.45) rotate(-90)" x="0" y="0" font-size="12.7" text-anchor="middle">Amplitude</text>
<g clip-path="url(#c6)" fill="none" stroke-width="2.0" stroke-linejoin="round" stroke-linecap="butt">
<polyline stroke="#0072BD" points="46.00,258.20 47.04,267.22 48.07,289.00 49.11,310.78 50.15,319.80 51.19,310.78 52.22,289.00 53.26,267.22 54.30,258.20 55.34,267.22 56.37,289.00 57.41,310.78 58.45,319.80 59.49,310.78 60.52,289.00 61.56,267.22 62.60,258.20 63.64,267.22 64.67,289.00 65.71,310.78 66.75,319.80 67.79,310.78 68.82,289.00 69.86,267.22 70.90,258.20 71.94,267.22 72.97,289.00 74.01,310.78 75.05,319.80 76.08,310.78 77.12,289.00 78.16,267.22 79.20,258.20 80.23,267.22 81.27,289.00 82.31,310.78 83.35,319.80 84.38,310.78 85.42,289.00 86.46,267.22 87.50,258.20 88.53,267.22 89.57,289.00 90.61,310.78 91.65,319.80 92.68,310.78 93.72,289.00 94.76,267.22 95.80,258.20 96.83,267.22 97.87,289.00 98.91,310.78 99.94,319.80 100.98,310.78 102.02,289.00 103.06,267.22 104.09,258.20 105.13,267.22 106.17,289.00 107.21,310.78 108.24,319.80 109.28,310.78 110.32,289.00 111.36,267.22 112.39,258.20 113.43,267.22 114.47,289.00 115.51,310.78 116.54,319.80 117.58,310.78 118.62,289.00 119.66,267.22 120.69,258.20 121.73,267.22 122.77,289.00 123.81,310.78 124.84,319.80 125.88,310.78 126.92,289.00 127.95,267.22 128.99,258.20 130.03,267.22 131.07,289.00 132.10,310.78 133.14,319.80 134.18,310.78 135.22,289.00 136.25,267.22 137.29,258.20 138.33,267.22 139.37,289.00 140.40,310.78 141.44,319.80 142.48,310.78 143.52,289.00 144.55,267.22 145.59,258.20 146.63,267.22 147.67,289.00 148.70,310.78 149.74,319.80 150.78,310.78 151.81,289.00 152.85,267.22 153.89,258.20 154.93,267.22 155.96,289.00 157.00,310.78 158.04,319.80 159.08,310.78 160.11,289.00 161.15,267.22 162.19,258.20 163.23,267.22 164.26,289.00 165.30,310.78 166.34,319.80 167.38,310.78 168.41,289.00 169.45,267.22 170.49,258.20 171.53,267.22 172.56,289.00 173.60,310.78 174.64,319.80 175.68,310.78 176.71,289.00 177.75,267.22"/>
<polyline stroke="#D95319" points="46.00,289.00 47.04,267.22 48.07,258.20 49.11,267.22 50.15,289.00 51.19,267.22 52.22,258.20 53.26,267.22 54.30,289.00 55.34,310.78 56.37,319.80 57.41,310.78 58.45,289.00 59.49,267.22 60.52,258.20 61.56,267.22 62.60,289.00 63.64,310.78 64.67,319.80 65.71,310.78 66.75,289.00 67.79,310.78 68.82,319.80 69.86,310.78 70.90,289.00 71.94,267.22 72.97,258.20 74.01,267.22 75.05,289.00 76.08,267.22 77.12,258.20 78.16,267.22 79.20,289.00 80.23,310.78 81.27,319.80 82.31,310.78 83.35,289.00 84.38,267.22 85.42,258.20 86.46,267.22 87.50,289.00 88.53,310.78 89.57,319.80 90.61,310.78 91.65,289.00 92.68,310.78 93.72,319.80 94.76,310.78 95.80,289.00 96.83,310.78 97.87,319.80 98.91,310.78 99.94,289.00 100.98,310.78 102.02,319.80 103.06,310.78 104.09,289.00 105.13,267.22 106.17,258.20 107.21,267.22 108.24,289.00 109.28,310.78 110.32,319.80 111.36,310.78 112.39,289.00 113.43,310.78 114.47,319.80 115.51,310.78 116.54,289.00 117.58,267.22 118.62,258.20 119.66,267.22 120.69,289.00 121.73,267.22 122.77,258.20 123.81,267.22 124.84,289.00 125.88,267.22 126.92,258.20 127.95,267.22 128.99,289.00 130.03,310.78 131.07,319.80 132.10,310.78 133.14,289.00 134.18,310.78 135.22,319.80 136.25,310.78 137.29,289.00 138.33,267.22 139.37,258.20 140.40,267.22 141.44,289.00 142.48,267.22 143.52,258.20 144.55,267.22 145.59,289.00 146.63,310.78 147.67,319.80 148.70,310.78 149.74,289.00 150.78,267.22 151.81,258.20 152.85,267.22 153.89,289.00 154.93,267.22 155.96,258.20 157.00,267.22 158.04,289.00 159.08,310.78 160.11,319.80 161.15,310.78 162.19,289.00 163.23,310.78 164.26,319.80 165.30,310.78 166.34,289.00 167.38,310.78 168.41,319.80 169.45,310.78 170.49,289.00 171.53,267.22 172.56,258.20 173.60,267.22 174.64,289.00 175.68,267.22 176.71,258.20 177.75,267.22"/>
</g>
<rect x="230.15" y="258.20" width="131.75" height="61.60" fill="none" stroke="#101010" stroke-width="1.8"/>
<path d="M249.86 319.80v-2.2M249.86 258.20v2.2" stroke="#101010" stroke-width="1"/>
<path d="M270.61 319.80v-2.2M270.61 258.20v2.2" stroke="#101010" stroke-width="1"/>
<path d="M291.36 319.80v-2.2M291.36 258.20v2.2" stroke="#101010" stroke-width="1"/>
<path d="M312.10 319.80v-2.2M312.10 258.20v2.2" stroke="#101010" stroke-width="1"/>
<path d="M332.85 319.80v-2.2M332.85 258.20v2.2" stroke="#101010" stroke-width="1"/>
<path d="M353.60 319.80v-2.2M353.60 258.20v2.2" stroke="#101010" stroke-width="1"/>
<text x="249.66" y="339.00" font-size="12.7" text-anchor="middle">20</text>
<text x="291.16" y="339.00" font-size="12.7" text-anchor="middle">60</text>
<text x="332.65" y="339.00" font-size="12.7" text-anchor="middle">100</text>
<path d="M230.15 258.20h2.2M361.90 258.20h-2.2" stroke="#101010" stroke-width="1"/>
<text x="224.75" y="263.10" font-size="12.7" text-anchor="end">1</text>
<path d="M230.15 289.00h2.2M361.90 289.00h-2.2" stroke="#101010" stroke-width="1"/>
<text x="224.75" y="293.90" font-size="12.7" text-anchor="end">0</text>
<path d="M230.15 319.80h2.2M361.90 319.80h-2.2" stroke="#101010" stroke-width="1"/>
<text x="224.75" y="324.70" font-size="12.7" text-anchor="end">1</text>
<text x="211.05" y="324.10" font-size="10" text-anchor="middle">&#8722;</text>
<text x="295.57" y="253.25" font-size="12.7" text-anchor="middle">2FSK</text>
<text x="295.47" y="356.30" font-size="12.7" text-anchor="middle">Sampling point</text>
<text transform="translate(198.55,289.45) rotate(-90)" x="0" y="0" font-size="12.7" text-anchor="middle">Amplitude</text>
<g clip-path="url(#c7)" fill="none" stroke-width="2.0" stroke-linejoin="round" stroke-linecap="butt">
<polyline stroke="#0072BD" points="230.15,258.20 231.19,260.54 232.22,267.22 233.26,277.21 234.30,289.00 235.34,277.21 236.37,267.22 237.41,260.54 238.45,258.20 239.49,260.54 240.52,267.22 241.56,277.21 242.60,289.00 243.64,300.79 244.67,310.78 245.71,317.46 246.75,319.80 247.79,317.46 248.82,310.78 249.86,300.79 250.90,289.00 251.94,277.21 252.97,267.22 254.01,260.54 255.05,258.20 256.09,260.54 257.12,267.22 258.16,277.21 259.20,289.00 260.23,300.79 261.27,310.78 262.31,317.46 263.35,319.80 264.38,317.46 265.42,310.78 266.46,300.79 267.50,289.00 268.53,300.79 269.57,310.78 270.61,317.46 271.65,319.80 272.68,317.46 273.72,310.78 274.76,300.79 275.80,289.00 276.83,300.79 277.87,310.78 278.91,317.46 279.95,319.80 280.98,317.46 282.02,310.78 283.06,300.79 284.09,289.00 285.13,300.79 286.17,310.78 287.21,317.46 288.24,319.80 289.28,317.46 290.32,310.78 291.36,300.79 292.39,289.00 293.43,277.21 294.47,267.22 295.51,260.54 296.54,258.20 297.58,260.54 298.62,267.22 299.66,277.21 300.69,289.00 301.73,277.21 302.77,267.22 303.81,260.54 304.84,258.20 305.88,260.54 306.92,267.22 307.96,277.21 308.99,289.00 310.03,300.79 311.07,310.78 312.10,317.46 313.14,319.80 314.18,317.46 315.22,310.78 316.25,300.79 317.29,289.00 318.33,277.21 319.37,267.22 320.40,260.54 321.44,258.20 322.48,260.54 323.52,267.22 324.55,277.21 325.59,289.00 326.63,300.79 327.67,310.78 328.70,317.46 329.74,319.80 330.78,317.46 331.82,310.78 332.85,300.79 333.89,289.00 334.93,300.79 335.96,310.78 337.00,317.46 338.04,319.80 339.08,317.46 340.11,310.78 341.15,300.79 342.19,289.00 343.23,300.79 344.26,310.78 345.30,317.46 346.34,319.80 347.38,317.46 348.41,310.78 349.45,300.79 350.49,289.00 351.53,300.79 352.56,310.78 353.60,317.46 354.64,319.80 355.68,317.46 356.71,310.78 357.75,300.79 358.79,289.00 359.83,300.79 360.86,310.78 361.90,317.46"/>
<polyline stroke="#D95319" points="230.15,289.00 231.19,300.79 232.22,310.78 233.26,317.46 234.30,319.80 235.34,317.46 236.37,310.78 237.41,300.79 238.45,289.00 239.49,300.79 240.52,310.78 241.56,317.46 242.60,319.80 243.64,317.46 244.67,310.78 245.71,300.79 246.75,289.00 247.79,300.79 248.82,310.78 249.86,317.46 250.90,319.80 251.94,317.46 252.97,310.78 254.01,300.79 255.05,289.00 256.09,300.79 257.12,310.78 258.16,317.46 259.20,319.80 260.23,317.46 261.27,310.78 262.31,300.79 263.35,289.00 264.38,277.21 265.42,267.22 266.46,260.54 267.50,258.20 268.53,260.54 269.57,267.22 270.61,277.21 271.65,289.00 272.68,277.21 273.72,267.22 274.76,260.54 275.80,258.20 276.83,260.54 277.87,267.22 278.91,277.21 279.95,289.00 280.98,277.21 282.02,267.22 283.06,260.54 284.09,258.20 285.13,260.54 286.17,267.22 287.21,277.21 288.24,289.00 289.28,277.21 290.32,267.22 291.36,260.54 292.39,258.20 293.43,260.54 294.47,267.22 295.51,277.21 296.54,289.00 297.58,300.79 298.62,310.78 299.66,317.46 300.69,319.80 301.73,317.46 302.77,310.78 303.81,300.79 304.84,289.00 305.88,277.21 306.92,267.22 307.96,260.54 308.99,258.20 310.03,260.54 311.07,267.22 312.10,277.21 313.14,289.00 314.18,300.79 315.22,310.78 316.25,317.46 317.29,319.80 318.33,317.46 319.37,310.78 320.40,300.79 321.44,289.00 322.48,277.21 323.52,267.22 324.55,260.54 325.59,258.20 326.63,260.54 327.67,267.22 328.70,277.21 329.74,289.00 330.78,300.79 331.82,310.78 332.85,317.46 333.89,319.80 334.93,317.46 335.96,310.78 337.00,300.79 338.04,289.00 339.08,277.21 340.11,267.22 341.15,260.54 342.19,258.20 343.23,260.54 344.26,267.22 345.30,277.21 346.34,289.00 347.38,300.79 348.41,310.78 349.45,317.46 350.49,319.80 351.53,317.46 352.56,310.78 353.60,300.79 354.64,289.00 355.68,300.79 356.71,310.78 357.75,317.46 358.79,319.80 359.83,317.46 360.86,310.78 361.90,300.79"/>
</g>
<rect x="414.20" y="258.20" width="131.75" height="61.60" fill="none" stroke="#101010" stroke-width="1.8"/>
<path d="M433.91 319.80v-2.2M433.91 258.20v2.2" stroke="#101010" stroke-width="1"/>
<path d="M454.66 319.80v-2.2M454.66 258.20v2.2" stroke="#101010" stroke-width="1"/>
<path d="M475.41 319.80v-2.2M475.41 258.20v2.2" stroke="#101010" stroke-width="1"/>
<path d="M496.15 319.80v-2.2M496.15 258.20v2.2" stroke="#101010" stroke-width="1"/>
<path d="M516.90 319.80v-2.2M516.90 258.20v2.2" stroke="#101010" stroke-width="1"/>
<path d="M537.65 319.80v-2.2M537.65 258.20v2.2" stroke="#101010" stroke-width="1"/>
<text x="433.71" y="339.00" font-size="12.7" text-anchor="middle">20</text>
<text x="475.21" y="339.00" font-size="12.7" text-anchor="middle">60</text>
<text x="516.70" y="339.00" font-size="12.7" text-anchor="middle">100</text>
<path d="M414.20 258.20h2.2M545.95 258.20h-2.2" stroke="#101010" stroke-width="1"/>
<text x="408.80" y="263.10" font-size="12.7" text-anchor="end">1</text>
<path d="M414.20 289.00h2.2M545.95 289.00h-2.2" stroke="#101010" stroke-width="1"/>
<text x="408.80" y="293.90" font-size="12.7" text-anchor="end">0</text>
<path d="M414.20 319.80h2.2M545.95 319.80h-2.2" stroke="#101010" stroke-width="1"/>
<text x="408.80" y="324.70" font-size="12.7" text-anchor="end">1</text>
<text x="395.10" y="324.10" font-size="10" text-anchor="middle">&#8722;</text>
<text x="479.62" y="253.25" font-size="12.7" text-anchor="middle">4FSK</text>
<text x="479.52" y="356.30" font-size="12.7" text-anchor="middle">Sampling point</text>
<text transform="translate(382.60,289.45) rotate(-90)" x="0" y="0" font-size="12.7" text-anchor="middle">Amplitude</text>
<g clip-path="url(#c8)" fill="none" stroke-width="2.0" stroke-linejoin="round" stroke-linecap="butt">
<polyline stroke="#0072BD" points="414.20,258.20 415.24,260.54 416.27,267.22 417.31,277.21 418.35,289.00 419.39,277.21 420.42,267.22 421.46,260.54 422.50,258.20 423.54,277.21 424.57,310.78 425.61,317.46 426.65,289.00 427.69,300.79 428.72,310.78 429.76,317.46 430.80,319.80 431.84,300.79 432.87,267.22 433.91,260.54 434.95,289.00 435.99,300.79 437.02,310.78 438.06,317.46 439.10,319.80 440.14,317.46 441.17,310.78 442.21,300.79 443.25,289.00 444.28,260.54 445.32,267.22 446.36,300.79 447.40,319.80 448.43,317.46 449.47,310.78 450.51,300.79 451.55,289.00 452.58,277.21 453.62,267.22 454.66,260.54 455.70,258.20 456.73,277.21 457.77,310.78 458.81,317.46 459.85,289.00 460.88,277.21 461.92,267.22 462.96,260.54 464.00,258.20 465.03,260.54 466.07,267.22 467.11,277.21 468.14,289.00 469.18,277.21 470.22,267.22 471.26,260.54 472.29,258.20 473.33,260.54 474.37,267.22 475.41,277.21 476.44,289.00 477.48,260.54 478.52,267.22 479.56,300.79 480.59,319.80 481.63,317.46 482.67,310.78 483.71,300.79 484.74,289.00 485.78,277.21 486.82,267.22 487.86,260.54 488.89,258.20 489.93,260.54 490.97,267.22 492.01,277.21 493.04,289.00 494.08,277.21 495.12,267.22 496.15,260.54 497.19,258.20 498.23,260.54 499.27,267.22 500.30,277.21 501.34,289.00 502.38,300.79 503.42,310.78 504.45,317.46 505.49,319.80 506.53,317.46 507.57,310.78 508.60,300.79 509.64,289.00 510.68,277.21 511.72,267.22 512.75,260.54 513.79,258.20 514.83,260.54 515.87,267.22 516.90,277.21 517.94,289.00 518.98,317.46 520.01,310.78 521.05,277.21 522.09,258.20 523.13,260.54 524.16,267.22 525.20,277.21 526.24,289.00 527.28,260.54 528.31,267.22 529.35,300.79 530.39,319.80 531.43,300.79 532.46,267.22 533.50,260.54 534.54,289.00 535.58,300.79 536.61,310.78 537.65,317.46 538.69,319.80 539.73,300.79 540.76,267.22 541.80,260.54 542.84,289.00 543.88,317.46 544.91,310.78 545.95,277.21"/>
<polyline stroke="#D95319" points="414.20,289.00 415.24,300.79 416.27,310.78 417.31,317.46 418.35,319.80 419.39,317.46 420.42,310.78 421.46,300.79 422.50,289.00 423.54,260.54 424.57,267.22 425.61,300.79 426.65,319.80 427.69,317.46 428.72,310.78 429.76,300.79 430.80,289.00 431.84,260.54 432.87,267.22 433.91,300.79 434.95,319.80 435.99,317.46 437.02,310.78 438.06,300.79 439.10,289.00 440.14,300.79 441.17,310.78 442.21,317.46 443.25,319.80 444.28,300.79 445.32,267.22 446.36,260.54 447.40,289.00 448.43,277.21 449.47,267.22 450.51,260.54 451.55,258.20 452.58,260.54 453.62,267.22 454.66,277.21 455.70,289.00 456.73,260.54 457.77,267.22 458.81,300.79 459.85,319.80 460.88,317.46 461.92,310.78 462.96,300.79 464.00,289.00 465.03,277.21 466.07,267.22 467.11,260.54 468.14,258.20 469.18,260.54 470.22,267.22 471.26,277.21 472.29,289.00 473.33,300.79 474.37,310.78 475.41,317.46 476.44,319.80 477.48,300.79 478.52,267.22 479.56,260.54 480.59,289.00 481.63,277.21 482.67,267.22 483.71,260.54 484.74,258.20 485.78,260.54 486.82,267.22 487.86,277.21 488.89,289.00 489.93,300.79 490.97,310.78 492.01,317.46 493.04,319.80 494.08,317.46 495.12,310.78 496.15,300.79 497.19,289.00 498.23,277.21 499.27,267.22 500.30,260.54 501.34,258.20 502.38,260.54 503.42,267.22 504.45,277.21 505.49,289.00 506.53,277.21 507.57,267.22 508.60,260.54 509.64,258.20 510.68,260.54 511.72,267.22 512.75,277.21 513.79,289.00 514.83,300.79 515.87,310.78 516.90,317.46 517.94,319.80 518.98,300.79 520.01,267.22 521.05,260.54 522.09,289.00 523.13,300.79 524.16,310.78 525.20,317.46 526.24,319.80 527.28,300.79 528.31,267.22 529.35,260.54 530.39,289.00 531.43,317.46 532.46,310.78 533.50,277.21 534.54,258.20 535.58,260.54 536.61,267.22 537.65,277.21 538.69,289.00 539.73,317.46 540.76,310.78 541.80,277.21 542.84,258.20 543.88,277.21 544.91,310.78 545.95,317.46"/>
</g>
</svg></body></html>
